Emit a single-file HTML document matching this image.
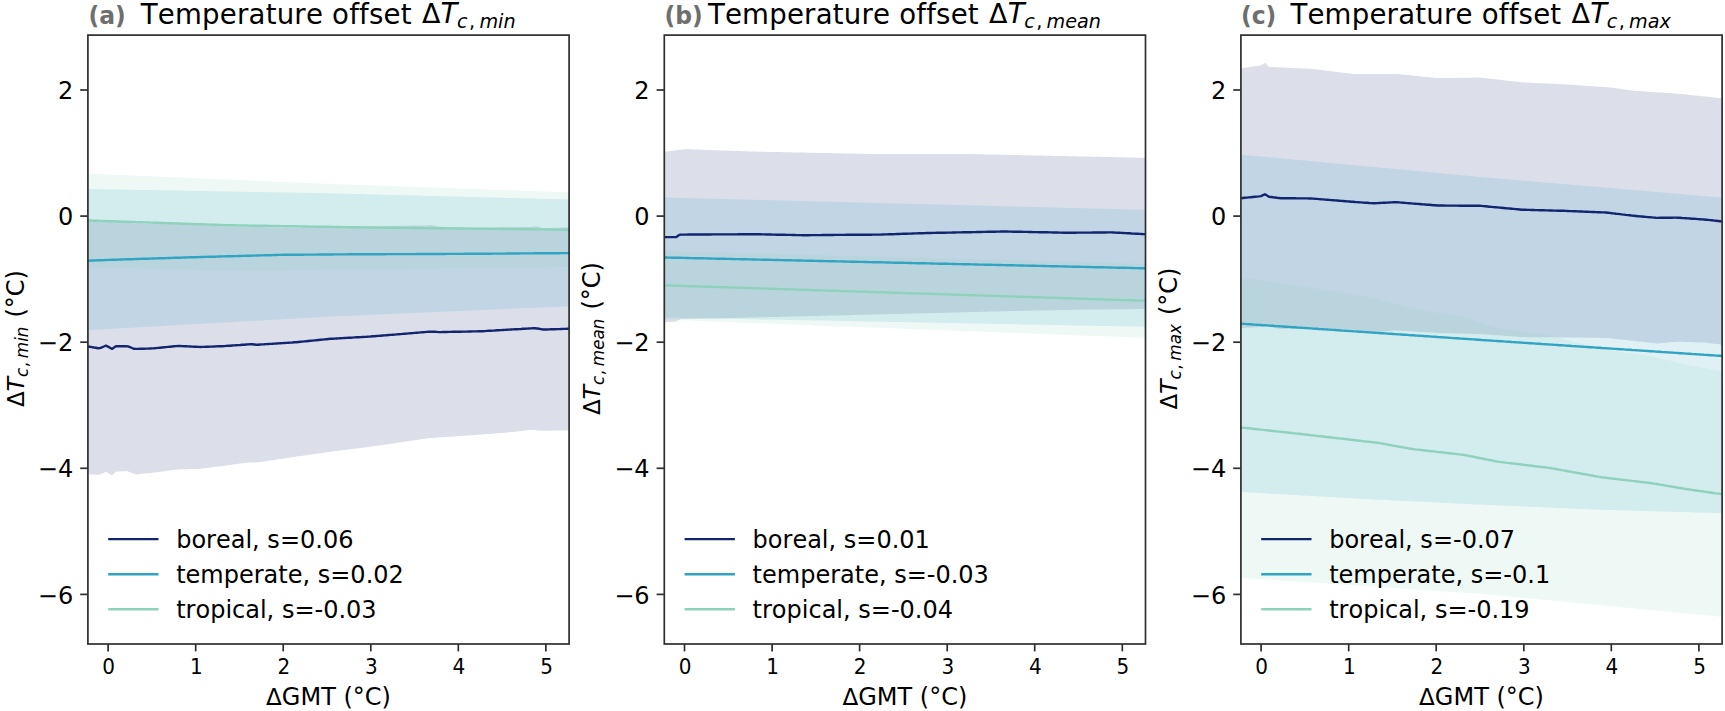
<!DOCTYPE html>
<html lang="en">
<head>
<meta charset="utf-8">
<title>Temperature offset</title>
<style>
html,body{margin:0;padding:0;background:#fff;}
body{width:1725px;height:711px;overflow:hidden;}
svg{display:block;}
text{font-family:'DejaVu Sans','Liberation Sans',sans-serif;fill:#000;font-kerning:none;}
.tk{font-size:24px;}
.xt{font-size:20px;}
.lb{font-size:24px;}
.tt{font-size:27.6px;}
.sub{font-size:19.2px;font-style:italic;}
.it{font-style:italic;}
.let{font-size:23.5px;font-weight:bold;fill:#6e6e6e;}
.lg{font-size:24px;}
</style>
</head>
<body>
<svg width="1725" height="711" viewBox="0 0 1725 711">
<rect x="0" y="0" width="1725" height="711" fill="#fff"/>
<defs>
<clipPath id="clip0"><rect x="87.9" y="35.1" width="481.2" height="608.9"/></clipPath>
<clipPath id="clip1"><rect x="664.3" y="35.1" width="481.2" height="608.9"/></clipPath>
<clipPath id="clip2"><rect x="1240.9" y="35.1" width="481.2" height="608.9"/></clipPath>
</defs>
<g id="panel-a">
<g clip-path="url(#clip0)">
<path d="M87.9 218.7 L89.9 219.3 L91.9 219.8 L93.9 220.4 L95.9 220.9 L97.9 221.5 L99.9 221.6 L101.9 221 L103.9 220.4 L105.9 219.7 L108 220.3 L110 221.3 L112 222.5 L114 221.7 L116 220.9 L118 220.8 L120 220.9 L122 221 L124 221.1 L126 221.2 L128 221.4 L130 222.2 L132 223 L134 223.8 L136 223.5 L138 223.5 L140 223.6 L142 223.7 L144 223.8 L146 223.9 L148.1 223.9 L150.1 224 L152.1 224.1 L154.1 224 L156.1 223.9 L158.1 223.8 L160.1 223.6 L162.1 223.5 L164.1 223.4 L166.1 223.2 L168.1 223.1 L170.1 223 L172.1 222.8 L174.1 222.7 L176.1 222.6 L178.1 222.4 L180.1 222.6 L182.1 222.9 L184.1 223.1 L186.1 223.4 L188.2 223.6 L190.2 223.9 L192.2 224.1 L194.2 224.4 L196.2 224.6 L198.2 224.9 L200.2 225.2 L202.2 225.3 L204.2 225.4 L206.2 225.5 L208.2 225.6 L210.2 225.7 L212.2 225.8 L214.2 225.9 L216.2 226 L218.2 226.1 L220.2 226.2 L222.2 226.3 L224.2 226.4 L226.2 226.4 L228.2 226.4 L230.3 226.4 L232.3 226.4 L234.3 226.4 L236.3 226.4 L238.3 226.4 L240.3 226.4 L242.3 226.4 L244.3 226.4 L246.3 226.4 L248.3 226.4 L250.3 226.3 L252.3 226.3 L254.3 226.5 L256.3 226.8 L258.3 227 L260.3 227.1 L262.3 227.1 L264.3 227.1 L266.3 227.2 L268.4 227.2 L270.4 227.3 L272.4 227.3 L274.4 227.4 L276.4 227.4 L278.4 227.4 L280.4 227.5 L282.4 227.5 L284.4 227.6 L286.4 227.6 L288.4 227.7 L290.4 227.7 L292.4 227.7 L294.4 227.8 L296.4 227.8 L298.4 227.7 L300.4 227.6 L302.4 227.4 L304.4 227.3 L306.4 227.2 L308.4 227.1 L310.5 227 L312.5 226.9 L314.5 226.7 L316.5 226.6 L318.5 226.5 L320.5 226.4 L322.5 226.3 L324.5 226.2 L326.5 226 L328.5 225.9 L330.5 225.8 L332.5 225.9 L334.5 225.9 L336.5 225.9 L338.5 225.9 L340.5 226 L342.5 226 L344.5 226 L346.5 226.1 L348.5 226.1 L350.6 226.1 L352.6 226.1 L354.6 226.2 L356.6 226.2 L358.6 226.2 L360.6 226.3 L362.6 226.3 L364.6 226.3 L366.6 226.3 L368.6 226.4 L370.6 226.4 L372.6 226.3 L374.6 226.3 L376.6 226.3 L378.6 226.2 L380.6 226.2 L382.6 226.1 L384.6 226.1 L386.6 226.1 L388.6 226 L390.7 226 L392.7 225.9 L394.7 225.9 L396.7 225.9 L398.7 225.8 L400.7 225.8 L402.7 225.8 L404.7 225.7 L406.7 225.7 L408.7 225.7 L410.7 225.6 L412.7 225.6 L414.7 225.6 L416.7 225.5 L418.7 225.5 L420.7 225.5 L422.7 225.4 L424.7 225.4 L426.7 225.4 L428.8 225.3 L430.8 225.1 L432.8 225.4 L434.8 225.8 L436.8 226.2 L438.8 226.7 L440.8 226.8 L442.8 226.9 L444.8 226.9 L446.8 227 L448.8 227 L450.8 227.1 L452.8 227.2 L454.8 227.2 L456.8 227.3 L458.8 227.3 L460.8 227.4 L462.8 227.4 L464.8 227.5 L466.8 227.5 L468.9 227.6 L470.9 227.6 L472.9 227.7 L474.9 227.7 L476.9 227.8 L478.9 227.8 L480.9 227.9 L482.9 227.9 L484.9 227.8 L486.9 227.8 L488.9 227.7 L490.9 227.6 L492.9 227.5 L494.9 227.4 L496.9 227.3 L498.9 227.3 L500.9 227.2 L502.9 227.1 L504.9 227 L506.9 226.9 L508.9 226.9 L511 226.9 L513 226.9 L515 226.9 L517 226.9 L519 226.9 L521 226.9 L523 226.9 L525 226.9 L527 226.9 L529 226.9 L531 226.9 L533 226.7 L535 226.2 L537 226.6 L539 227 L541 227.5 L543 228.2 L545 228.3 L547 228.2 L549 228.1 L551.1 228 L553.1 227.9 L555.1 227.8 L557.1 227.7 L559.1 227.7 L561.1 227.6 L563.1 227.5 L565.1 227.4 L567.1 227.3 L569.1 227.2 L569.1 430.3 L567.1 430.3 L565.1 430.4 L563.1 430.4 L561.1 430.5 L559.1 430.5 L557.1 430.5 L555.1 430.6 L553.1 430.6 L551.1 430.7 L549 430.7 L547 430.7 L545 430.8 L543 430.8 L541 430.8 L539 430.6 L537 430.4 L535 430.1 L533 429.8 L531 429.9 L529 430.1 L527 430.3 L525 430.5 L523 430.8 L521 431 L519 431.2 L517 431.4 L515 431.7 L513 431.9 L511 432.1 L508.9 432.3 L506.9 432.5 L504.9 432.7 L502.9 432.9 L500.9 433 L498.9 433.2 L496.9 433.3 L494.9 433.5 L492.9 433.7 L490.9 433.8 L488.9 434 L486.9 434.1 L484.9 434.3 L482.9 434.5 L480.9 434.6 L478.9 434.8 L476.9 434.9 L474.9 435.1 L472.9 435.2 L470.9 435.3 L468.9 435.5 L466.8 435.6 L464.8 435.7 L462.8 435.9 L460.8 436 L458.8 436.1 L456.8 436.3 L454.8 436.4 L452.8 436.5 L450.8 436.7 L448.8 436.8 L446.8 436.9 L444.8 437.1 L442.8 437.2 L440.8 437.3 L438.8 437.5 L436.8 437.6 L434.8 437.7 L432.8 437.9 L430.8 438 L428.8 438.1 L426.7 438.4 L424.7 438.7 L422.7 439 L420.7 439.3 L418.7 439.6 L416.7 439.9 L414.7 440.2 L412.7 440.5 L410.7 440.8 L408.7 441.1 L406.7 441.4 L404.7 441.7 L402.7 442 L400.7 442.3 L398.7 442.6 L396.7 442.9 L394.7 443.2 L392.7 443.5 L390.7 443.8 L388.6 444.1 L386.6 444.4 L384.6 444.6 L382.6 444.9 L380.6 445.2 L378.6 445.5 L376.6 445.8 L374.6 446 L372.6 446.3 L370.6 446.6 L368.6 446.9 L366.6 447.2 L364.6 447.4 L362.6 447.7 L360.6 447.9 L358.6 448.2 L356.6 448.5 L354.6 448.7 L352.6 449 L350.6 449.2 L348.5 449.5 L346.5 449.7 L344.5 450 L342.5 450.3 L340.5 450.5 L338.5 450.8 L336.5 451 L334.5 451.3 L332.5 451.5 L330.5 451.8 L328.5 452.1 L326.5 452.3 L324.5 452.6 L322.5 452.9 L320.5 453.2 L318.5 453.5 L316.5 453.8 L314.5 454 L312.5 454.3 L310.5 454.6 L308.4 454.9 L306.4 455.2 L304.4 455.5 L302.4 455.8 L300.4 456 L298.4 456.3 L296.4 456.6 L294.4 456.9 L292.4 457.2 L290.4 457.5 L288.4 457.8 L286.4 458.1 L284.4 458.4 L282.4 458.7 L280.4 459 L278.4 459.3 L276.4 459.6 L274.4 459.9 L272.4 460.2 L270.4 460.5 L268.4 460.8 L266.3 461.1 L264.3 461.4 L262.3 461.7 L260.3 462 L258.3 462.3 L256.3 462.6 L254.3 462.6 L252.3 462.4 L250.3 462.2 L248.3 462.4 L246.3 462.7 L244.3 463 L242.3 463.2 L240.3 463.5 L238.3 463.8 L236.3 464.1 L234.3 464.4 L232.3 464.6 L230.3 464.9 L228.2 465.2 L226.2 465.5 L224.2 465.8 L222.2 466 L220.2 466.3 L218.2 466.5 L216.2 466.8 L214.2 467 L212.2 467.3 L210.2 467.5 L208.2 467.8 L206.2 468 L204.2 468.3 L202.2 468.5 L200.2 468.8 L198.2 468.9 L196.2 468.9 L194.2 469 L192.2 469 L190.2 469.1 L188.2 469.1 L186.1 469.2 L184.1 469.2 L182.1 469.3 L180.1 469.3 L178.1 469.4 L176.1 469.6 L174.1 469.8 L172.1 470.1 L170.1 470.4 L168.1 470.7 L166.1 470.9 L164.1 471.2 L162.1 471.5 L160.1 471.7 L158.1 472 L156.1 472.3 L154.1 472.5 L152.1 472.8 L150.1 473 L148.1 473.2 L146 473.4 L144 473.6 L142 473.8 L140 474 L138 474.2 L136 474.4 L134 473.8 L132 473 L130 472.2 L128 471.4 L126 471.1 L124 471.2 L122 471.3 L120 471.4 L118 471.5 L116 471.6 L114 473.5 L112 475.4 L110 474.3 L108 472.9 L105.9 471.7 L103.9 472.7 L101.9 473.7 L99.9 474.6 L97.9 474.9 L95.9 474.8 L93.9 474.6 L91.9 474.5 L89.9 474.3 L87.9 474.2Z" fill="#12256f" fill-opacity="0.15" stroke="none"/>
<path d="M87.9 189 L89.9 189 L91.9 189.1 L93.9 189.1 L95.9 189.1 L97.9 189.2 L99.9 189.2 L101.9 189.2 L103.9 189.3 L105.9 189.3 L108 189.4 L110 189.4 L112 189.4 L114 189.5 L116 189.5 L118 189.5 L120 189.6 L122 189.6 L124 189.6 L126 189.7 L128 189.7 L130 189.7 L132 189.8 L134 189.8 L136 189.9 L138 189.9 L140 189.9 L142 190 L144 190 L146 190 L148.1 190.1 L150.1 190.1 L152.1 190.1 L154.1 190.2 L156.1 190.2 L158.1 190.2 L160.1 190.3 L162.1 190.3 L164.1 190.4 L166.1 190.4 L168.1 190.4 L170.1 190.5 L172.1 190.5 L174.1 190.5 L176.1 190.6 L178.1 190.6 L180.1 190.6 L182.1 190.7 L184.1 190.7 L186.1 190.7 L188.2 190.8 L190.2 190.8 L192.2 190.9 L194.2 190.9 L196.2 190.9 L198.2 191 L200.2 191 L202.2 191 L204.2 191.1 L206.2 191.1 L208.2 191.1 L210.2 191.2 L212.2 191.2 L214.2 191.2 L216.2 191.3 L218.2 191.3 L220.2 191.4 L222.2 191.4 L224.2 191.4 L226.2 191.5 L228.2 191.5 L230.3 191.5 L232.3 191.6 L234.3 191.6 L236.3 191.6 L238.3 191.7 L240.3 191.7 L242.3 191.7 L244.3 191.8 L246.3 191.8 L248.3 191.9 L250.3 191.9 L252.3 191.9 L254.3 192 L256.3 192 L258.3 192 L260.3 192.1 L262.3 192.1 L264.3 192.1 L266.3 192.2 L268.4 192.2 L270.4 192.2 L272.4 192.3 L274.4 192.3 L276.4 192.3 L278.4 192.4 L280.4 192.4 L282.4 192.5 L284.4 192.5 L286.4 192.5 L288.4 192.6 L290.4 192.6 L292.4 192.6 L294.4 192.7 L296.4 192.7 L298.4 192.7 L300.4 192.8 L302.4 192.8 L304.4 192.8 L306.4 192.9 L308.4 192.9 L310.5 193 L312.5 193 L314.5 193 L316.5 193.1 L318.5 193.1 L320.5 193.1 L322.5 193.2 L324.5 193.2 L326.5 193.2 L328.5 193.3 L330.5 193.3 L332.5 193.4 L334.5 193.4 L336.5 193.5 L338.5 193.5 L340.5 193.6 L342.5 193.6 L344.5 193.7 L346.5 193.7 L348.5 193.8 L350.6 193.8 L352.6 193.9 L354.6 193.9 L356.6 194 L358.6 194 L360.6 194.1 L362.6 194.1 L364.6 194.2 L366.6 194.3 L368.6 194.3 L370.6 194.4 L372.6 194.4 L374.6 194.5 L376.6 194.5 L378.6 194.6 L380.6 194.6 L382.6 194.7 L384.6 194.7 L386.6 194.8 L388.6 194.8 L390.7 194.9 L392.7 194.9 L394.7 195 L396.7 195 L398.7 195.1 L400.7 195.1 L402.7 195.2 L404.7 195.2 L406.7 195.3 L408.7 195.3 L410.7 195.4 L412.7 195.4 L414.7 195.5 L416.7 195.6 L418.7 195.6 L420.7 195.7 L422.7 195.7 L424.7 195.8 L426.7 195.8 L428.8 195.9 L430.8 195.9 L432.8 196 L434.8 196 L436.8 196.1 L438.8 196.1 L440.8 196.2 L442.8 196.2 L444.8 196.3 L446.8 196.3 L448.8 196.4 L450.8 196.4 L452.8 196.5 L454.8 196.5 L456.8 196.6 L458.8 196.6 L460.8 196.7 L462.8 196.7 L464.8 196.8 L466.8 196.8 L468.9 196.9 L470.9 197 L472.9 197 L474.9 197.1 L476.9 197.1 L478.9 197.2 L480.9 197.2 L482.9 197.3 L484.9 197.3 L486.9 197.4 L488.9 197.4 L490.9 197.5 L492.9 197.5 L494.9 197.6 L496.9 197.6 L498.9 197.7 L500.9 197.7 L502.9 197.8 L504.9 197.8 L506.9 197.9 L508.9 197.9 L511 198 L513 198 L515 198.1 L517 198.1 L519 198.2 L521 198.3 L523 198.3 L525 198.4 L527 198.4 L529 198.5 L531 198.5 L533 198.6 L535 198.6 L537 198.7 L539 198.7 L541 198.8 L543 198.8 L545 198.9 L547 198.9 L549 199 L551.1 199 L553.1 199.1 L555.1 199.1 L557.1 199.2 L559.1 199.2 L561.1 199.3 L563.1 199.3 L565.1 199.4 L567.1 199.4 L569.1 199.5 L569.1 306.3 L567.1 306.4 L565.1 306.4 L563.1 306.5 L561.1 306.6 L559.1 306.7 L557.1 306.8 L555.1 306.9 L553.1 307 L551.1 307 L549 307.1 L547 307.2 L545 307.3 L543 307.4 L541 307.5 L539 307.6 L537 307.7 L535 307.7 L533 307.8 L531 307.9 L529 308 L527 308.1 L525 308.2 L523 308.3 L521 308.3 L519 308.4 L517 308.5 L515 308.6 L513 308.7 L511 308.8 L508.9 308.9 L506.9 309 L504.9 309 L502.9 309.1 L500.9 309.2 L498.9 309.3 L496.9 309.4 L494.9 309.5 L492.9 309.6 L490.9 309.6 L488.9 309.7 L486.9 309.8 L484.9 309.9 L482.9 310 L480.9 310.1 L478.9 310.2 L476.9 310.3 L474.9 310.3 L472.9 310.4 L470.9 310.5 L468.9 310.6 L466.8 310.7 L464.8 310.8 L462.8 310.9 L460.8 310.9 L458.8 311 L456.8 311.1 L454.8 311.2 L452.8 311.3 L450.8 311.4 L448.8 311.5 L446.8 311.6 L444.8 311.6 L442.8 311.7 L440.8 311.8 L438.8 311.9 L436.8 312 L434.8 312.1 L432.8 312.2 L430.8 312.2 L428.8 312.3 L426.7 312.4 L424.7 312.5 L422.7 312.6 L420.7 312.7 L418.7 312.8 L416.7 312.8 L414.7 312.9 L412.7 313 L410.7 313.1 L408.7 313.2 L406.7 313.3 L404.7 313.4 L402.7 313.5 L400.7 313.5 L398.7 313.6 L396.7 313.7 L394.7 313.8 L392.7 313.9 L390.7 314 L388.6 314.1 L386.6 314.1 L384.6 314.2 L382.6 314.3 L380.6 314.4 L378.6 314.5 L376.6 314.6 L374.6 314.7 L372.6 314.8 L370.6 314.8 L368.6 314.9 L366.6 315 L364.6 315.1 L362.6 315.2 L360.6 315.3 L358.6 315.4 L356.6 315.4 L354.6 315.5 L352.6 315.6 L350.6 315.7 L348.5 315.8 L346.5 315.9 L344.5 316 L342.5 316.1 L340.5 316.1 L338.5 316.2 L336.5 316.3 L334.5 316.4 L332.5 316.5 L330.5 316.6 L328.5 316.7 L326.5 316.8 L324.5 316.9 L322.5 317 L320.5 317.1 L318.5 317.2 L316.5 317.3 L314.5 317.5 L312.5 317.6 L310.5 317.7 L308.4 317.8 L306.4 317.9 L304.4 318 L302.4 318.1 L300.4 318.2 L298.4 318.3 L296.4 318.5 L294.4 318.6 L292.4 318.7 L290.4 318.8 L288.4 318.9 L286.4 319 L284.4 319.1 L282.4 319.2 L280.4 319.4 L278.4 319.5 L276.4 319.6 L274.4 319.7 L272.4 319.8 L270.4 319.9 L268.4 320 L266.3 320.1 L264.3 320.3 L262.3 320.4 L260.3 320.5 L258.3 320.6 L256.3 320.7 L254.3 320.8 L252.3 320.9 L250.3 321 L248.3 321.2 L246.3 321.3 L244.3 321.4 L242.3 321.5 L240.3 321.6 L238.3 321.7 L236.3 321.8 L234.3 321.9 L232.3 322.1 L230.3 322.2 L228.2 322.3 L226.2 322.4 L224.2 322.5 L222.2 322.6 L220.2 322.7 L218.2 322.8 L216.2 323 L214.2 323.1 L212.2 323.2 L210.2 323.3 L208.2 323.4 L206.2 323.5 L204.2 323.6 L202.2 323.7 L200.2 323.9 L198.2 324 L196.2 324.1 L194.2 324.2 L192.2 324.3 L190.2 324.4 L188.2 324.5 L186.1 324.6 L184.1 324.8 L182.1 324.9 L180.1 325 L178.1 325.1 L176.1 325.2 L174.1 325.3 L172.1 325.4 L170.1 325.5 L168.1 325.6 L166.1 325.8 L164.1 325.9 L162.1 326 L160.1 326.1 L158.1 326.2 L156.1 326.3 L154.1 326.4 L152.1 326.5 L150.1 326.7 L148.1 326.8 L146 326.9 L144 327 L142 327.1 L140 327.2 L138 327.3 L136 327.4 L134 327.6 L132 327.7 L130 327.8 L128 327.9 L126 328 L124 328.1 L122 328.2 L120 328.3 L118 328.5 L116 328.6 L114 328.7 L112 328.8 L110 328.9 L108 329 L105.9 329.1 L103.9 329.2 L101.9 329.4 L99.9 329.5 L97.9 329.6 L95.9 329.7 L93.9 329.8 L91.9 329.9 L89.9 330 L87.9 330.1Z" fill="#31a4c3" fill-opacity="0.15" stroke="none"/>
<path d="M87.9 173.6 L89.9 173.7 L91.9 173.8 L93.9 173.9 L95.9 173.9 L97.9 174 L99.9 174.1 L101.9 174.2 L103.9 174.3 L105.9 174.4 L108 174.5 L110 174.5 L112 174.6 L114 174.7 L116 174.8 L118 174.9 L120 175 L122 175.1 L124 175.2 L126 175.2 L128 175.3 L130 175.4 L132 175.5 L134 175.6 L136 175.7 L138 175.8 L140 175.8 L142 175.9 L144 176 L146 176.1 L148.1 176.2 L150.1 176.3 L152.1 176.4 L154.1 176.4 L156.1 176.5 L158.1 176.6 L160.1 176.7 L162.1 176.8 L164.1 176.9 L166.1 177 L168.1 177 L170.1 177.1 L172.1 177.2 L174.1 177.3 L176.1 177.4 L178.1 177.5 L180.1 177.6 L182.1 177.6 L184.1 177.7 L186.1 177.8 L188.2 177.9 L190.2 178 L192.2 178.1 L194.2 178.2 L196.2 178.3 L198.2 178.3 L200.2 178.4 L202.2 178.5 L204.2 178.6 L206.2 178.7 L208.2 178.8 L210.2 178.9 L212.2 178.9 L214.2 179 L216.2 179.1 L218.2 179.2 L220.2 179.3 L222.2 179.4 L224.2 179.5 L226.2 179.5 L228.2 179.6 L230.3 179.7 L232.3 179.8 L234.3 179.9 L236.3 180 L238.3 180.1 L240.3 180.1 L242.3 180.2 L244.3 180.3 L246.3 180.4 L248.3 180.5 L250.3 180.6 L252.3 180.7 L254.3 180.8 L256.3 180.8 L258.3 180.9 L260.3 181 L262.3 181.1 L264.3 181.2 L266.3 181.3 L268.4 181.4 L270.4 181.4 L272.4 181.5 L274.4 181.6 L276.4 181.7 L278.4 181.8 L280.4 181.9 L282.4 182 L284.4 182 L286.4 182.1 L288.4 182.2 L290.4 182.3 L292.4 182.4 L294.4 182.5 L296.4 182.6 L298.4 182.6 L300.4 182.7 L302.4 182.8 L304.4 182.9 L306.4 183 L308.4 183.1 L310.5 183.2 L312.5 183.3 L314.5 183.3 L316.5 183.4 L318.5 183.5 L320.5 183.6 L322.5 183.7 L324.5 183.8 L326.5 183.9 L328.5 183.9 L330.5 184 L332.5 184.1 L334.5 184.2 L336.5 184.2 L338.5 184.3 L340.5 184.4 L342.5 184.4 L344.5 184.5 L346.5 184.6 L348.5 184.7 L350.6 184.7 L352.6 184.8 L354.6 184.9 L356.6 184.9 L358.6 185 L360.6 185.1 L362.6 185.1 L364.6 185.2 L366.6 185.3 L368.6 185.4 L370.6 185.4 L372.6 185.5 L374.6 185.6 L376.6 185.6 L378.6 185.7 L380.6 185.8 L382.6 185.9 L384.6 185.9 L386.6 186 L388.6 186.1 L390.7 186.1 L392.7 186.2 L394.7 186.3 L396.7 186.3 L398.7 186.4 L400.7 186.5 L402.7 186.6 L404.7 186.6 L406.7 186.7 L408.7 186.8 L410.7 186.8 L412.7 186.9 L414.7 187 L416.7 187 L418.7 187.1 L420.7 187.2 L422.7 187.3 L424.7 187.3 L426.7 187.4 L428.8 187.5 L430.8 187.5 L432.8 187.6 L434.8 187.7 L436.8 187.8 L438.8 187.8 L440.8 187.9 L442.8 188 L444.8 188 L446.8 188.1 L448.8 188.2 L450.8 188.2 L452.8 188.3 L454.8 188.4 L456.8 188.5 L458.8 188.5 L460.8 188.6 L462.8 188.7 L464.8 188.7 L466.8 188.8 L468.9 188.9 L470.9 188.9 L472.9 189 L474.9 189.1 L476.9 189.2 L478.9 189.2 L480.9 189.3 L482.9 189.4 L484.9 189.4 L486.9 189.5 L488.9 189.6 L490.9 189.7 L492.9 189.7 L494.9 189.8 L496.9 189.9 L498.9 189.9 L500.9 190 L502.9 190.1 L504.9 190.1 L506.9 190.2 L508.9 190.3 L511 190.4 L513 190.4 L515 190.5 L517 190.6 L519 190.6 L521 190.7 L523 190.8 L525 190.9 L527 190.9 L529 191 L531 191.1 L533 191.1 L535 191.2 L537 191.3 L539 191.3 L541 191.4 L543 191.5 L545 191.6 L547 191.6 L549 191.7 L551.1 191.8 L553.1 191.8 L555.1 191.9 L557.1 192 L559.1 192 L561.1 192.1 L563.1 192.2 L565.1 192.3 L567.1 192.3 L569.1 192.4 L569.1 267.1 L567.1 267.1 L565.1 267.1 L563.1 267.1 L561.1 267.2 L559.1 267.2 L557.1 267.2 L555.1 267.2 L553.1 267.3 L551.1 267.3 L549 267.3 L547 267.3 L545 267.4 L543 267.4 L541 267.4 L539 267.4 L537 267.5 L535 267.5 L533 267.5 L531 267.5 L529 267.6 L527 267.6 L525 267.6 L523 267.6 L521 267.7 L519 267.7 L517 267.7 L515 267.8 L513 267.8 L511 267.8 L508.9 267.8 L506.9 267.9 L504.9 267.9 L502.9 267.9 L500.9 267.9 L498.9 268 L496.9 268 L494.9 268 L492.9 268 L490.9 268.1 L488.9 268.1 L486.9 268.1 L484.9 268.1 L482.9 268.2 L480.9 268.2 L478.9 268.2 L476.9 268.2 L474.9 268.3 L472.9 268.3 L470.9 268.3 L468.9 268.3 L466.8 268.4 L464.8 268.4 L462.8 268.4 L460.8 268.4 L458.8 268.5 L456.8 268.5 L454.8 268.5 L452.8 268.5 L450.8 268.6 L448.8 268.6 L446.8 268.6 L444.8 268.6 L442.8 268.7 L440.8 268.7 L438.8 268.7 L436.8 268.7 L434.8 268.8 L432.8 268.8 L430.8 268.8 L428.8 268.8 L426.7 268.9 L424.7 268.9 L422.7 268.9 L420.7 268.9 L418.7 269 L416.7 269 L414.7 269 L412.7 269 L410.7 269.1 L408.7 269.1 L406.7 269.1 L404.7 269.2 L402.7 269.2 L400.7 269.2 L398.7 269.2 L396.7 269.3 L394.7 269.3 L392.7 269.3 L390.7 269.3 L388.6 269.4 L386.6 269.4 L384.6 269.4 L382.6 269.4 L380.6 269.5 L378.6 269.5 L376.6 269.5 L374.6 269.5 L372.6 269.6 L370.6 269.6 L368.6 269.6 L366.6 269.6 L364.6 269.6 L362.6 269.6 L360.6 269.6 L358.6 269.6 L356.6 269.6 L354.6 269.6 L352.6 269.7 L350.6 269.7 L348.5 269.7 L346.5 269.7 L344.5 269.7 L342.5 269.7 L340.5 269.7 L338.5 269.7 L336.5 269.7 L334.5 269.7 L332.5 269.7 L330.5 269.7 L328.5 269.7 L326.5 269.8 L324.5 269.8 L322.5 269.8 L320.5 269.8 L318.5 269.9 L316.5 269.9 L314.5 269.9 L312.5 269.9 L310.5 269.9 L308.4 270 L306.4 270 L304.4 270 L302.4 270 L300.4 270 L298.4 270.1 L296.4 270.1 L294.4 270.1 L292.4 270.1 L290.4 270.2 L288.4 270.2 L286.4 270.2 L284.4 270.2 L282.4 270.2 L280.4 270.3 L278.4 270.3 L276.4 270.3 L274.4 270.3 L272.4 270.4 L270.4 270.4 L268.4 270.4 L266.3 270.4 L264.3 270.4 L262.3 270.5 L260.3 270.5 L258.3 270.5 L256.3 270.5 L254.3 270.6 L252.3 270.6 L250.3 270.6 L248.3 270.6 L246.3 270.6 L244.3 270.7 L242.3 270.7 L240.3 270.7 L238.3 270.7 L236.3 270.8 L234.3 270.8 L232.3 270.8 L230.3 270.8 L228.2 270.8 L226.2 270.8 L224.2 270.7 L222.2 270.7 L220.2 270.6 L218.2 270.6 L216.2 270.5 L214.2 270.5 L212.2 270.4 L210.2 270.4 L208.2 270.3 L206.2 270.3 L204.2 270.2 L202.2 270.2 L200.2 270.1 L198.2 270.1 L196.2 270 L194.2 270 L192.2 269.9 L190.2 269.9 L188.2 269.8 L186.1 269.8 L184.1 269.7 L182.1 269.7 L180.1 269.6 L178.1 269.6 L176.1 269.5 L174.1 269.5 L172.1 269.4 L170.1 269.4 L168.1 269.3 L166.1 269.3 L164.1 269.2 L162.1 269.2 L160.1 269.1 L158.1 269.1 L156.1 269 L154.1 269 L152.1 268.9 L150.1 268.9 L148.1 268.8 L146 268.8 L144 268.7 L142 268.7 L140 268.6 L138 268.6 L136 268.5 L134 268.5 L132 268.4 L130 268.4 L128 268.3 L126 268.3 L124 268.2 L122 268.2 L120 268.1 L118 268.1 L116 268 L114 268 L112 267.9 L110 267.9 L108 267.8 L105.9 267.8 L103.9 267.7 L101.9 267.7 L99.9 267.6 L97.9 267.6 L95.9 267.5 L93.9 267.5 L91.9 267.4 L89.9 267.4 L87.9 267.3Z" fill="#8ed2bb" fill-opacity="0.15" stroke="none"/>
<path d="M87.9 346.4 L89.9 346.8 L91.9 347.1 L93.9 347.5 L95.9 347.8 L97.9 348.2 L99.9 348.1 L101.9 347.3 L103.9 346.5 L105.9 345.7 L108 346.6 L110 347.8 L112 348.9 L114 347.6 L116 346.3 L118 346.2 L120 346.2 L122 346.2 L124 346.2 L126 346.2 L128 346.4 L130 347.2 L132 348 L134 348.8 L136 348.9 L138 348.9 L140 348.8 L142 348.7 L144 348.7 L146 348.6 L148.1 348.6 L150.1 348.5 L152.1 348.4 L154.1 348.3 L156.1 348.1 L158.1 347.9 L160.1 347.7 L162.1 347.5 L164.1 347.3 L166.1 347.1 L168.1 346.9 L170.1 346.7 L172.1 346.5 L174.1 346.3 L176.1 346.1 L178.1 345.9 L180.1 346 L182.1 346.1 L184.1 346.2 L186.1 346.3 L188.2 346.4 L190.2 346.5 L192.2 346.6 L194.2 346.7 L196.2 346.8 L198.2 346.9 L200.2 347 L202.2 346.9 L204.2 346.9 L206.2 346.8 L208.2 346.7 L210.2 346.6 L212.2 346.6 L214.2 346.5 L216.2 346.4 L218.2 346.3 L220.2 346.3 L222.2 346.2 L224.2 346.1 L226.2 345.9 L228.2 345.8 L230.3 345.7 L232.3 345.5 L234.3 345.4 L236.3 345.2 L238.3 345.1 L240.3 345 L242.3 344.8 L244.3 344.7 L246.3 344.5 L248.3 344.4 L250.3 344.3 L252.3 344.3 L254.3 344.5 L256.3 344.7 L258.3 344.7 L260.3 344.5 L262.3 344.4 L264.3 344.3 L266.3 344.1 L268.4 344 L270.4 343.9 L272.4 343.8 L274.4 343.6 L276.4 343.5 L278.4 343.4 L280.4 343.2 L282.4 343.1 L284.4 343 L286.4 342.9 L288.4 342.7 L290.4 342.6 L292.4 342.5 L294.4 342.3 L296.4 342.2 L298.4 342 L300.4 341.8 L302.4 341.6 L304.4 341.4 L306.4 341.2 L308.4 341 L310.5 340.8 L312.5 340.6 L314.5 340.4 L316.5 340.2 L318.5 340 L320.5 339.8 L322.5 339.6 L324.5 339.4 L326.5 339.2 L328.5 339 L330.5 338.8 L332.5 338.7 L334.5 338.6 L336.5 338.5 L338.5 338.4 L340.5 338.2 L342.5 338.1 L344.5 338 L346.5 337.9 L348.5 337.8 L350.6 337.7 L352.6 337.6 L354.6 337.4 L356.6 337.3 L358.6 337.2 L360.6 337.1 L362.6 337 L364.6 336.9 L366.6 336.8 L368.6 336.6 L370.6 336.5 L372.6 336.3 L374.6 336.2 L376.6 336 L378.6 335.9 L380.6 335.7 L382.6 335.5 L384.6 335.4 L386.6 335.2 L388.6 335 L390.7 334.9 L392.7 334.7 L394.7 334.6 L396.7 334.4 L398.7 334.2 L400.7 334.1 L402.7 333.9 L404.7 333.7 L406.7 333.6 L408.7 333.4 L410.7 333.2 L412.7 333.1 L414.7 332.9 L416.7 332.7 L418.7 332.6 L420.7 332.4 L422.7 332.2 L424.7 332.1 L426.7 331.9 L428.8 331.7 L430.8 331.6 L432.8 331.7 L434.8 331.8 L436.8 331.9 L438.8 332.1 L440.8 332.1 L442.8 332 L444.8 332 L446.8 332 L448.8 331.9 L450.8 331.9 L452.8 331.8 L454.8 331.8 L456.8 331.8 L458.8 331.7 L460.8 331.7 L462.8 331.6 L464.8 331.6 L466.8 331.6 L468.9 331.5 L470.9 331.5 L472.9 331.4 L474.9 331.4 L476.9 331.4 L478.9 331.3 L480.9 331.3 L482.9 331.2 L484.9 331.1 L486.9 330.9 L488.9 330.8 L490.9 330.7 L492.9 330.6 L494.9 330.5 L496.9 330.3 L498.9 330.2 L500.9 330.1 L502.9 330 L504.9 329.9 L506.9 329.7 L508.9 329.6 L511 329.5 L513 329.4 L515 329.3 L517 329.2 L519 329.1 L521 329 L523 328.8 L525 328.7 L527 328.6 L529 328.5 L531 328.4 L533 328.3 L535 328.2 L537 328.5 L539 328.8 L541 329.1 L543 329.5 L545 329.5 L547 329.5 L549 329.4 L551.1 329.3 L553.1 329.3 L555.1 329.2 L557.1 329.1 L559.1 329.1 L561.1 329 L563.1 328.9 L565.1 328.9 L567.1 328.8 L569.1 328.8" fill="none" stroke="#12256f" stroke-width="2.4" stroke-linejoin="round"/>
<path d="M87.9 260.7 L89.9 260.6 L91.9 260.5 L93.9 260.5 L95.9 260.4 L97.9 260.3 L99.9 260.2 L101.9 260.2 L103.9 260.1 L105.9 260 L108 259.9 L110 259.9 L112 259.8 L114 259.7 L116 259.7 L118 259.6 L120 259.5 L122 259.5 L124 259.4 L126 259.3 L128 259.3 L130 259.2 L132 259.2 L134 259.1 L136 259 L138 259 L140 258.9 L142 258.8 L144 258.8 L146 258.7 L148.1 258.7 L150.1 258.6 L152.1 258.5 L154.1 258.5 L156.1 258.4 L158.1 258.3 L160.1 258.3 L162.1 258.2 L164.1 258.2 L166.1 258.1 L168.1 258 L170.1 258 L172.1 257.9 L174.1 257.8 L176.1 257.8 L178.1 257.7 L180.1 257.7 L182.1 257.6 L184.1 257.5 L186.1 257.5 L188.2 257.4 L190.2 257.3 L192.2 257.3 L194.2 257.2 L196.2 257.2 L198.2 257.1 L200.2 257 L202.2 257 L204.2 256.9 L206.2 256.9 L208.2 256.8 L210.2 256.8 L212.2 256.7 L214.2 256.7 L216.2 256.6 L218.2 256.5 L220.2 256.5 L222.2 256.4 L224.2 256.4 L226.2 256.3 L228.2 256.3 L230.3 256.2 L232.3 256.2 L234.3 256.1 L236.3 256.1 L238.3 256 L240.3 256 L242.3 255.9 L244.3 255.9 L246.3 255.8 L248.3 255.7 L250.3 255.7 L252.3 255.6 L254.3 255.6 L256.3 255.5 L258.3 255.5 L260.3 255.4 L262.3 255.4 L264.3 255.3 L266.3 255.3 L268.4 255.2 L270.4 255.2 L272.4 255.1 L274.4 255 L276.4 255 L278.4 254.9 L280.4 254.9 L282.4 254.8 L284.4 254.8 L286.4 254.8 L288.4 254.7 L290.4 254.7 L292.4 254.7 L294.4 254.7 L296.4 254.7 L298.4 254.7 L300.4 254.7 L302.4 254.7 L304.4 254.6 L306.4 254.6 L308.4 254.6 L310.5 254.6 L312.5 254.6 L314.5 254.6 L316.5 254.6 L318.5 254.5 L320.5 254.5 L322.5 254.5 L324.5 254.5 L326.5 254.5 L328.5 254.5 L330.5 254.5 L332.5 254.5 L334.5 254.4 L336.5 254.4 L338.5 254.4 L340.5 254.4 L342.5 254.4 L344.5 254.4 L346.5 254.4 L348.5 254.3 L350.6 254.3 L352.6 254.3 L354.6 254.3 L356.6 254.3 L358.6 254.3 L360.6 254.3 L362.6 254.3 L364.6 254.2 L366.6 254.2 L368.6 254.2 L370.6 254.2 L372.6 254.2 L374.6 254.2 L376.6 254.2 L378.6 254.2 L380.6 254.2 L382.6 254.2 L384.6 254.2 L386.6 254.1 L388.6 254.1 L390.7 254.1 L392.7 254.1 L394.7 254.1 L396.7 254.1 L398.7 254.1 L400.7 254.1 L402.7 254.1 L404.7 254.1 L406.7 254.1 L408.7 254.1 L410.7 254.1 L412.7 254.1 L414.7 254.1 L416.7 254 L418.7 254 L420.7 254 L422.7 254 L424.7 254 L426.7 254 L428.8 254 L430.8 254 L432.8 254 L434.8 254 L436.8 254 L438.8 254 L440.8 254 L442.8 254 L444.8 254 L446.8 253.9 L448.8 253.9 L450.8 253.9 L452.8 253.9 L454.8 253.9 L456.8 253.9 L458.8 253.9 L460.8 253.9 L462.8 253.9 L464.8 253.8 L466.8 253.8 L468.9 253.8 L470.9 253.8 L472.9 253.8 L474.9 253.8 L476.9 253.8 L478.9 253.7 L480.9 253.7 L482.9 253.7 L484.9 253.7 L486.9 253.7 L488.9 253.7 L490.9 253.7 L492.9 253.6 L494.9 253.6 L496.9 253.6 L498.9 253.6 L500.9 253.6 L502.9 253.6 L504.9 253.6 L506.9 253.5 L508.9 253.5 L511 253.5 L513 253.5 L515 253.5 L517 253.5 L519 253.5 L521 253.4 L523 253.4 L525 253.4 L527 253.4 L529 253.4 L531 253.4 L533 253.4 L535 253.3 L537 253.3 L539 253.3 L541 253.3 L543 253.3 L545 253.3 L547 253.2 L549 253.2 L551.1 253.2 L553.1 253.2 L555.1 253.2 L557.1 253.2 L559.1 253.2 L561.1 253.1 L563.1 253.1 L565.1 253.1 L567.1 253.1 L569.1 253.1" fill="none" stroke="#31a4c3" stroke-width="2.4" stroke-linejoin="round"/>
<path d="M87.9 220.5 L89.9 220.5 L91.9 220.6 L93.9 220.7 L95.9 220.7 L97.9 220.8 L99.9 220.9 L101.9 220.9 L103.9 221 L105.9 221.1 L108 221.1 L110 221.2 L112 221.3 L114 221.3 L116 221.4 L118 221.5 L120 221.5 L122 221.6 L124 221.7 L126 221.8 L128 221.8 L130 221.9 L132 222 L134 222 L136 222.1 L138 222.2 L140 222.2 L142 222.3 L144 222.4 L146 222.4 L148.1 222.5 L150.1 222.6 L152.1 222.6 L154.1 222.7 L156.1 222.8 L158.1 222.8 L160.1 222.9 L162.1 223 L164.1 223 L166.1 223.1 L168.1 223.2 L170.1 223.3 L172.1 223.3 L174.1 223.4 L176.1 223.5 L178.1 223.5 L180.1 223.6 L182.1 223.7 L184.1 223.7 L186.1 223.8 L188.2 223.9 L190.2 223.9 L192.2 224 L194.2 224.1 L196.2 224.1 L198.2 224.2 L200.2 224.3 L202.2 224.3 L204.2 224.4 L206.2 224.5 L208.2 224.5 L210.2 224.6 L212.2 224.7 L214.2 224.8 L216.2 224.8 L218.2 224.9 L220.2 225 L222.2 225 L224.2 225.1 L226.2 225.2 L228.2 225.2 L230.3 225.3 L232.3 225.3 L234.3 225.3 L236.3 225.4 L238.3 225.4 L240.3 225.4 L242.3 225.5 L244.3 225.5 L246.3 225.5 L248.3 225.6 L250.3 225.6 L252.3 225.6 L254.3 225.7 L256.3 225.7 L258.3 225.7 L260.3 225.7 L262.3 225.8 L264.3 225.8 L266.3 225.8 L268.4 225.9 L270.4 225.9 L272.4 225.9 L274.4 226 L276.4 226 L278.4 226 L280.4 226.1 L282.4 226.1 L284.4 226.1 L286.4 226.2 L288.4 226.2 L290.4 226.2 L292.4 226.3 L294.4 226.3 L296.4 226.3 L298.4 226.4 L300.4 226.4 L302.4 226.4 L304.4 226.5 L306.4 226.5 L308.4 226.5 L310.5 226.6 L312.5 226.6 L314.5 226.6 L316.5 226.6 L318.5 226.7 L320.5 226.7 L322.5 226.7 L324.5 226.8 L326.5 226.8 L328.5 226.8 L330.5 226.9 L332.5 226.9 L334.5 226.9 L336.5 227 L338.5 227 L340.5 227 L342.5 227.1 L344.5 227.1 L346.5 227.1 L348.5 227.2 L350.6 227.2 L352.6 227.2 L354.6 227.3 L356.6 227.3 L358.6 227.3 L360.6 227.4 L362.6 227.4 L364.6 227.4 L366.6 227.4 L368.6 227.5 L370.6 227.5 L372.6 227.5 L374.6 227.6 L376.6 227.6 L378.6 227.6 L380.6 227.6 L382.6 227.6 L384.6 227.7 L386.6 227.7 L388.6 227.7 L390.7 227.7 L392.7 227.8 L394.7 227.8 L396.7 227.8 L398.7 227.8 L400.7 227.8 L402.7 227.9 L404.7 227.9 L406.7 227.9 L408.7 227.9 L410.7 228 L412.7 228 L414.7 228 L416.7 228 L418.7 228 L420.7 228.1 L422.7 228.1 L424.7 228.1 L426.7 228.1 L428.8 228.2 L430.8 228.2 L432.8 228.2 L434.8 228.2 L436.8 228.2 L438.8 228.3 L440.8 228.3 L442.8 228.3 L444.8 228.3 L446.8 228.4 L448.8 228.4 L450.8 228.4 L452.8 228.4 L454.8 228.5 L456.8 228.5 L458.8 228.5 L460.8 228.5 L462.8 228.5 L464.8 228.6 L466.8 228.6 L468.9 228.6 L470.9 228.6 L472.9 228.7 L474.9 228.7 L476.9 228.7 L478.9 228.7 L480.9 228.7 L482.9 228.8 L484.9 228.8 L486.9 228.8 L488.9 228.8 L490.9 228.9 L492.9 228.9 L494.9 228.9 L496.9 228.9 L498.9 228.9 L500.9 229 L502.9 229 L504.9 229 L506.9 229 L508.9 229.1 L511 229.1 L513 229.1 L515 229.1 L517 229.1 L519 229.2 L521 229.2 L523 229.2 L525 229.2 L527 229.3 L529 229.3 L531 229.3 L533 229.3 L535 229.3 L537 229.4 L539 229.4 L541 229.4 L543 229.4 L545 229.5 L547 229.5 L549 229.5 L551.1 229.5 L553.1 229.6 L555.1 229.6 L557.1 229.6 L559.1 229.6 L561.1 229.6 L563.1 229.7 L565.1 229.7 L567.1 229.7 L569.1 229.7" fill="none" stroke="#8ed2bb" stroke-width="2.4" stroke-linejoin="round"/>
</g>
<rect x="87.9" y="35.1" width="481.2" height="608.9" fill="none" stroke="#2e2e2e" stroke-width="1.7"/>
<line x1="108.1" y1="644" x2="108.1" y2="651.4" stroke="#2e2e2e" stroke-width="1.7"/>
<text class="xt" transform="translate(108.7 674.4) scale(1 1.05)" text-anchor="middle">0</text>
<line x1="195.7" y1="644" x2="195.7" y2="651.4" stroke="#2e2e2e" stroke-width="1.7"/>
<text class="xt" transform="translate(196.3 674.4) scale(1 1.05)" text-anchor="middle">1</text>
<line x1="283.2" y1="644" x2="283.2" y2="651.4" stroke="#2e2e2e" stroke-width="1.7"/>
<text class="xt" transform="translate(283.8 674.4) scale(1 1.05)" text-anchor="middle">2</text>
<line x1="370.8" y1="644" x2="370.8" y2="651.4" stroke="#2e2e2e" stroke-width="1.7"/>
<text class="xt" transform="translate(371.4 674.4) scale(1 1.05)" text-anchor="middle">3</text>
<line x1="458.3" y1="644" x2="458.3" y2="651.4" stroke="#2e2e2e" stroke-width="1.7"/>
<text class="xt" transform="translate(458.9 674.4) scale(1 1.05)" text-anchor="middle">4</text>
<line x1="545.9" y1="644" x2="545.9" y2="651.4" stroke="#2e2e2e" stroke-width="1.7"/>
<text class="xt" transform="translate(546.5 674.4) scale(1 1.05)" text-anchor="middle">5</text>
<line x1="80.2" y1="90" x2="87.9" y2="90" stroke="#2e2e2e" stroke-width="1.7"/>
<text class="tk" x="73.2" y="99.1" text-anchor="end">2</text>
<line x1="80.2" y1="216.1" x2="87.9" y2="216.1" stroke="#2e2e2e" stroke-width="1.7"/>
<text class="tk" x="73.2" y="225.2" text-anchor="end">0</text>
<line x1="80.2" y1="342.2" x2="87.9" y2="342.2" stroke="#2e2e2e" stroke-width="1.7"/>
<text class="tk" x="73.2" y="351.3" text-anchor="end">−2</text>
<line x1="80.2" y1="468.3" x2="87.9" y2="468.3" stroke="#2e2e2e" stroke-width="1.7"/>
<text class="tk" x="73.2" y="477.4" text-anchor="end">−4</text>
<line x1="80.2" y1="594.4" x2="87.9" y2="594.4" stroke="#2e2e2e" stroke-width="1.7"/>
<text class="tk" x="73.2" y="603.5" text-anchor="end">−6</text>
<text class="lb" x="328.5" y="704.5" text-anchor="middle"><tspan style="font-size:23.1px">Δ</tspan>GMT (°C)</text>
<g transform="translate(23.7 339.6) rotate(-90)"><text class="lb" x="-67.5" y="0" style="font-size:23.1px">Δ</text><text class="lb it" x="-51.8" y="0" style="font-size:23.7px">T</text><text class="sub" x="-37.3" y="3.8" style="font-size:16.8px">c</text><text class="sub" x="-27.7" y="3.8" style="font-size:16.8px;font-style:normal">,</text><text class="sub" x="-18.6" y="3.8" style="font-size:16.8px">min</text><text class="lb" x="22" y="0">(°C)</text></g>
<text class="let" transform="translate(88.5 23.5) scale(1 1.04)">(a)</text>
<text class="tt" y="23.8"><tspan x="140.8" style="letter-spacing:0.2px">Temperature offset </tspan><tspan x="421.9" dy="-0.5" style="font-size:27px">Δ</tspan><tspan class="it" x="440.6">T</tspan><tspan class="sub" dy="4.3" x="457.1">c</tspan><tspan class="sub" style="font-style:normal" x="469.1">,</tspan><tspan class="sub" x="479.4">min</tspan></text>
<line x1="109.4" y1="539.1" x2="157.3" y2="539.1" stroke="#12256f" stroke-width="2.4" stroke-linecap="square"/>
<text class="lg" x="176.2" y="547.5">boreal, s=0.06</text>
<line x1="109.4" y1="574.2" x2="157.3" y2="574.2" stroke="#31a4c3" stroke-width="2.4" stroke-linecap="square"/>
<text class="lg" x="176.2" y="582.6">temperate, s=0.02</text>
<line x1="109.4" y1="609.3" x2="157.3" y2="609.3" stroke="#8ed2bb" stroke-width="2.4" stroke-linecap="square"/>
<text class="lg" x="176.2" y="617.7">tropical, s=-0.03</text>
</g>
<g id="panel-b">
<g clip-path="url(#clip1)">
<path d="M664.3 151.6 L666.3 151.4 L668.3 151.2 L670.3 150.9 L672.3 150.7 L674.3 150.5 L676.3 150.2 L678.3 150 L680.3 149.8 L682.3 149.6 L684.3 149.3 L686.4 149.2 L688.4 149.3 L690.4 149.3 L692.4 149.4 L694.4 149.5 L696.4 149.6 L698.4 149.6 L700.4 149.7 L702.4 149.8 L704.4 149.8 L706.4 149.9 L708.4 150 L710.4 150 L712.4 150.1 L714.4 150.2 L716.4 150.3 L718.4 150.3 L720.4 150.4 L722.4 150.5 L724.4 150.5 L726.5 150.6 L728.5 150.7 L730.5 150.7 L732.5 150.8 L734.5 150.9 L736.5 151 L738.5 151 L740.5 151.1 L742.5 151.2 L744.5 151.2 L746.5 151.3 L748.5 151.4 L750.5 151.4 L752.5 151.5 L754.5 151.6 L756.5 151.6 L758.5 151.7 L760.5 151.7 L762.5 151.8 L764.5 151.8 L766.6 151.9 L768.6 151.9 L770.6 151.9 L772.6 152 L774.6 152 L776.6 152.1 L778.6 152.1 L780.6 152.1 L782.6 152.2 L784.6 152.2 L786.6 152.3 L788.6 152.3 L790.6 152.3 L792.6 152.4 L794.6 152.4 L796.6 152.5 L798.6 152.5 L800.6 152.5 L802.6 152.6 L804.6 152.6 L806.7 152.7 L808.7 152.7 L810.7 152.7 L812.7 152.8 L814.7 152.8 L816.7 152.9 L818.7 152.9 L820.7 152.9 L822.7 153 L824.7 153 L826.7 153.1 L828.7 153.1 L830.7 153.1 L832.7 153.2 L834.7 153.2 L836.7 153.3 L838.7 153.3 L840.7 153.3 L842.7 153.4 L844.8 153.4 L846.8 153.5 L848.8 153.5 L850.8 153.5 L852.8 153.6 L854.8 153.6 L856.8 153.7 L858.8 153.7 L860.8 153.7 L862.8 153.8 L864.8 153.8 L866.8 153.9 L868.8 153.9 L870.8 153.9 L872.8 154 L874.8 154 L876.8 154.1 L878.8 154.1 L880.8 154.1 L882.8 154.1 L884.8 154.1 L886.9 154.1 L888.9 154.1 L890.9 154.1 L892.9 154.1 L894.9 154.1 L896.9 154.1 L898.9 154.1 L900.9 154.1 L902.9 154.1 L904.9 154.1 L906.9 154.1 L908.9 154.1 L910.9 154.1 L912.9 154.1 L914.9 154.1 L916.9 154.1 L918.9 154.1 L920.9 154.1 L922.9 154.1 L924.9 154.1 L927 154.1 L929 154.1 L931 154.1 L933 154.1 L935 154.1 L937 154.1 L939 154.1 L941 154.1 L943 154.1 L945 154.1 L947 154.1 L949 154.1 L951 154.1 L953 154.1 L955 154.1 L957 154.1 L959 154.1 L961 154.1 L963 154.1 L965 154.1 L967.1 154.1 L969.1 154.1 L971.1 154.1 L973.1 154.1 L975.1 154.2 L977.1 154.2 L979.1 154.3 L981.1 154.3 L983.1 154.3 L985.1 154.4 L987.1 154.4 L989.1 154.5 L991.1 154.5 L993.1 154.6 L995.1 154.6 L997.1 154.6 L999.1 154.7 L1001.1 154.7 L1003.1 154.8 L1005.1 154.8 L1007.2 154.9 L1009.2 154.9 L1011.2 154.9 L1013.2 155 L1015.2 155 L1017.2 155.1 L1019.2 155.1 L1021.2 155.2 L1023.2 155.2 L1025.2 155.2 L1027.2 155.3 L1029.2 155.3 L1031.2 155.4 L1033.2 155.4 L1035.2 155.5 L1037.2 155.5 L1039.2 155.5 L1041.2 155.6 L1043.2 155.6 L1045.2 155.7 L1047.3 155.7 L1049.3 155.8 L1051.3 155.8 L1053.3 155.9 L1055.3 155.9 L1057.3 155.9 L1059.3 156 L1061.3 156 L1063.3 156.1 L1065.3 156.1 L1067.3 156.2 L1069.3 156.2 L1071.3 156.2 L1073.3 156.3 L1075.3 156.3 L1077.3 156.4 L1079.3 156.4 L1081.3 156.5 L1083.3 156.5 L1085.3 156.5 L1087.4 156.6 L1089.4 156.6 L1091.4 156.7 L1093.4 156.7 L1095.4 156.8 L1097.4 156.8 L1099.4 156.8 L1101.4 156.9 L1103.4 156.9 L1105.4 157 L1107.4 157 L1109.4 157.1 L1111.4 157.1 L1113.4 157.1 L1115.4 157.2 L1117.4 157.2 L1119.4 157.3 L1121.4 157.3 L1123.4 157.4 L1125.4 157.4 L1127.5 157.4 L1129.5 157.5 L1131.5 157.5 L1133.5 157.6 L1135.5 157.6 L1137.5 157.7 L1139.5 157.7 L1141.5 157.7 L1143.5 157.8 L1145.5 157.8 L1145.5 309 L1143.5 309 L1141.5 309 L1139.5 309.1 L1137.5 309.1 L1135.5 309.1 L1133.5 309.1 L1131.5 309.1 L1129.5 309.2 L1127.5 309.2 L1125.4 309.2 L1123.4 309.2 L1121.4 309.2 L1119.4 309.3 L1117.4 309.3 L1115.4 309.3 L1113.4 309.3 L1111.4 309.3 L1109.4 309.4 L1107.4 309.4 L1105.4 309.4 L1103.4 309.4 L1101.4 309.4 L1099.4 309.5 L1097.4 309.5 L1095.4 309.5 L1093.4 309.5 L1091.4 309.5 L1089.4 309.6 L1087.4 309.6 L1085.3 309.6 L1083.3 309.6 L1081.3 309.7 L1079.3 309.7 L1077.3 309.7 L1075.3 309.8 L1073.3 309.8 L1071.3 309.9 L1069.3 309.9 L1067.3 309.9 L1065.3 310 L1063.3 310 L1061.3 310.1 L1059.3 310.1 L1057.3 310.1 L1055.3 310.2 L1053.3 310.2 L1051.3 310.3 L1049.3 310.3 L1047.3 310.3 L1045.2 310.4 L1043.2 310.4 L1041.2 310.5 L1039.2 310.5 L1037.2 310.5 L1035.2 310.6 L1033.2 310.6 L1031.2 310.7 L1029.2 310.7 L1027.2 310.7 L1025.2 310.8 L1023.2 310.8 L1021.2 310.9 L1019.2 310.9 L1017.2 310.9 L1015.2 311 L1013.2 311 L1011.2 311.1 L1009.2 311.1 L1007.2 311.1 L1005.1 311.2 L1003.1 311.2 L1001.1 311.3 L999.1 311.3 L997.1 311.4 L995.1 311.4 L993.1 311.5 L991.1 311.5 L989.1 311.6 L987.1 311.7 L985.1 311.7 L983.1 311.8 L981.1 311.8 L979.1 311.9 L977.1 311.9 L975.1 312 L973.1 312 L971.1 312.1 L969.1 312.1 L967.1 312.2 L965 312.2 L963 312.3 L961 312.3 L959 312.4 L957 312.4 L955 312.5 L953 312.5 L951 312.6 L949 312.7 L947 312.7 L945 312.8 L943 312.8 L941 312.9 L939 312.9 L937 313 L935 313 L933 313.1 L931 313.1 L929 313.2 L927 313.2 L924.9 313.3 L922.9 313.3 L920.9 313.4 L918.9 313.4 L916.9 313.5 L914.9 313.5 L912.9 313.6 L910.9 313.7 L908.9 313.7 L906.9 313.8 L904.9 313.8 L902.9 313.9 L900.9 313.9 L898.9 314 L896.9 314 L894.9 314.1 L892.9 314.1 L890.9 314.1 L888.9 314.2 L886.9 314.2 L884.8 314.3 L882.8 314.3 L880.8 314.4 L878.8 314.4 L876.8 314.5 L874.8 314.5 L872.8 314.6 L870.8 314.6 L868.8 314.7 L866.8 314.7 L864.8 314.8 L862.8 314.8 L860.8 314.9 L858.8 314.9 L856.8 315 L854.8 315 L852.8 315.1 L850.8 315.1 L848.8 315.2 L846.8 315.2 L844.8 315.3 L842.7 315.3 L840.7 315.4 L838.7 315.4 L836.7 315.5 L834.7 315.5 L832.7 315.6 L830.7 315.6 L828.7 315.6 L826.7 315.7 L824.7 315.7 L822.7 315.8 L820.7 315.8 L818.7 315.9 L816.7 315.9 L814.7 316 L812.7 316 L810.7 316.1 L808.7 316.1 L806.7 316.2 L804.6 316.2 L802.6 316.3 L800.6 316.3 L798.6 316.4 L796.6 316.4 L794.6 316.5 L792.6 316.5 L790.6 316.6 L788.6 316.6 L786.6 316.7 L784.6 316.7 L782.6 316.8 L780.6 316.8 L778.6 316.9 L776.6 316.9 L774.6 317 L772.6 317 L770.6 317 L768.6 317.1 L766.6 317.1 L764.5 317.2 L762.5 317.2 L760.5 317.3 L758.5 317.3 L756.5 317.4 L754.5 317.4 L752.5 317.5 L750.5 317.5 L748.5 317.6 L746.5 317.6 L744.5 317.7 L742.5 317.7 L740.5 317.8 L738.5 317.8 L736.5 317.9 L734.5 317.9 L732.5 318 L730.5 318 L728.5 318 L726.5 318.1 L724.4 318.1 L722.4 318.2 L720.4 318.2 L718.4 318.3 L716.4 318.3 L714.4 318.4 L712.4 318.4 L710.4 318.5 L708.4 318.5 L706.4 318.6 L704.4 318.6 L702.4 318.7 L700.4 318.7 L698.4 318.8 L696.4 318.8 L694.4 318.9 L692.4 318.9 L690.4 318.9 L688.4 319 L686.4 319 L684.3 319.1 L682.3 319.1 L680.3 319.2 L678.3 320.2 L676.3 321.6 L674.3 321.7 L672.3 321.8 L670.3 321.9 L668.3 322 L666.3 322.1 L664.3 322.2Z" fill="#12256f" fill-opacity="0.15" stroke="none"/>
<path d="M664.3 197.5 L666.3 197.5 L668.3 197.6 L670.3 197.6 L672.3 197.7 L674.3 197.7 L676.3 197.8 L678.3 197.8 L680.3 197.9 L682.3 197.9 L684.3 198 L686.4 198 L688.4 198.1 L690.4 198.1 L692.4 198.2 L694.4 198.2 L696.4 198.3 L698.4 198.3 L700.4 198.4 L702.4 198.4 L704.4 198.5 L706.4 198.5 L708.4 198.6 L710.4 198.6 L712.4 198.7 L714.4 198.7 L716.4 198.8 L718.4 198.8 L720.4 198.9 L722.4 199 L724.4 199 L726.5 199.1 L728.5 199.1 L730.5 199.2 L732.5 199.2 L734.5 199.3 L736.5 199.3 L738.5 199.4 L740.5 199.4 L742.5 199.5 L744.5 199.5 L746.5 199.6 L748.5 199.6 L750.5 199.7 L752.5 199.7 L754.5 199.8 L756.5 199.8 L758.5 199.9 L760.5 199.9 L762.5 200 L764.5 200 L766.6 200.1 L768.6 200.1 L770.6 200.2 L772.6 200.2 L774.6 200.3 L776.6 200.3 L778.6 200.4 L780.6 200.4 L782.6 200.5 L784.6 200.5 L786.6 200.6 L788.6 200.6 L790.6 200.7 L792.6 200.8 L794.6 200.8 L796.6 200.9 L798.6 200.9 L800.6 201 L802.6 201 L804.6 201.1 L806.7 201.1 L808.7 201.2 L810.7 201.2 L812.7 201.3 L814.7 201.3 L816.7 201.4 L818.7 201.4 L820.7 201.5 L822.7 201.5 L824.7 201.6 L826.7 201.6 L828.7 201.7 L830.7 201.7 L832.7 201.8 L834.7 201.8 L836.7 201.9 L838.7 201.9 L840.7 202 L842.7 202 L844.8 202.1 L846.8 202.1 L848.8 202.2 L850.8 202.2 L852.8 202.3 L854.8 202.3 L856.8 202.4 L858.8 202.5 L860.8 202.5 L862.8 202.6 L864.8 202.6 L866.8 202.7 L868.8 202.7 L870.8 202.8 L872.8 202.8 L874.8 202.9 L876.8 202.9 L878.8 203 L880.8 203 L882.8 203.1 L884.8 203.1 L886.9 203.2 L888.9 203.2 L890.9 203.3 L892.9 203.3 L894.9 203.4 L896.9 203.4 L898.9 203.5 L900.9 203.5 L902.9 203.6 L904.9 203.6 L906.9 203.7 L908.9 203.7 L910.9 203.8 L912.9 203.8 L914.9 203.9 L916.9 203.9 L918.9 204 L920.9 204 L922.9 204.1 L924.9 204.2 L927 204.2 L929 204.3 L931 204.3 L933 204.4 L935 204.4 L937 204.5 L939 204.5 L941 204.6 L943 204.6 L945 204.7 L947 204.7 L949 204.8 L951 204.8 L953 204.9 L955 204.9 L957 205 L959 205 L961 205.1 L963 205.1 L965 205.2 L967.1 205.2 L969.1 205.3 L971.1 205.3 L973.1 205.4 L975.1 205.4 L977.1 205.5 L979.1 205.5 L981.1 205.6 L983.1 205.6 L985.1 205.7 L987.1 205.7 L989.1 205.8 L991.1 205.8 L993.1 205.9 L995.1 206 L997.1 206 L999.1 206.1 L1001.1 206.1 L1003.1 206.2 L1005.1 206.2 L1007.2 206.3 L1009.2 206.3 L1011.2 206.4 L1013.2 206.4 L1015.2 206.5 L1017.2 206.5 L1019.2 206.6 L1021.2 206.6 L1023.2 206.7 L1025.2 206.7 L1027.2 206.8 L1029.2 206.8 L1031.2 206.9 L1033.2 206.9 L1035.2 207 L1037.2 207 L1039.2 207.1 L1041.2 207.1 L1043.2 207.2 L1045.2 207.2 L1047.3 207.3 L1049.3 207.3 L1051.3 207.4 L1053.3 207.4 L1055.3 207.5 L1057.3 207.5 L1059.3 207.6 L1061.3 207.7 L1063.3 207.7 L1065.3 207.8 L1067.3 207.8 L1069.3 207.9 L1071.3 207.9 L1073.3 208 L1075.3 208 L1077.3 208.1 L1079.3 208.1 L1081.3 208.2 L1083.3 208.2 L1085.3 208.3 L1087.4 208.3 L1089.4 208.4 L1091.4 208.4 L1093.4 208.5 L1095.4 208.5 L1097.4 208.6 L1099.4 208.6 L1101.4 208.7 L1103.4 208.7 L1105.4 208.8 L1107.4 208.8 L1109.4 208.9 L1111.4 208.9 L1113.4 209 L1115.4 209 L1117.4 209.1 L1119.4 209.1 L1121.4 209.2 L1123.4 209.2 L1125.4 209.3 L1127.5 209.3 L1129.5 209.4 L1131.5 209.5 L1133.5 209.5 L1135.5 209.6 L1137.5 209.6 L1139.5 209.7 L1141.5 209.7 L1143.5 209.8 L1145.5 209.8 L1145.5 326.8 L1143.5 326.7 L1141.5 326.7 L1139.5 326.7 L1137.5 326.6 L1135.5 326.6 L1133.5 326.5 L1131.5 326.5 L1129.5 326.5 L1127.5 326.4 L1125.4 326.4 L1123.4 326.3 L1121.4 326.3 L1119.4 326.3 L1117.4 326.2 L1115.4 326.2 L1113.4 326.2 L1111.4 326.1 L1109.4 326.1 L1107.4 326 L1105.4 326 L1103.4 326 L1101.4 325.9 L1099.4 325.9 L1097.4 325.8 L1095.4 325.8 L1093.4 325.8 L1091.4 325.7 L1089.4 325.7 L1087.4 325.7 L1085.3 325.6 L1083.3 325.6 L1081.3 325.5 L1079.3 325.5 L1077.3 325.5 L1075.3 325.4 L1073.3 325.4 L1071.3 325.3 L1069.3 325.3 L1067.3 325.3 L1065.3 325.2 L1063.3 325.2 L1061.3 325.1 L1059.3 325.1 L1057.3 325.1 L1055.3 325 L1053.3 325 L1051.3 325 L1049.3 324.9 L1047.3 324.9 L1045.2 324.8 L1043.2 324.8 L1041.2 324.8 L1039.2 324.7 L1037.2 324.7 L1035.2 324.6 L1033.2 324.6 L1031.2 324.6 L1029.2 324.5 L1027.2 324.5 L1025.2 324.5 L1023.2 324.4 L1021.2 324.4 L1019.2 324.3 L1017.2 324.3 L1015.2 324.3 L1013.2 324.2 L1011.2 324.2 L1009.2 324.1 L1007.2 324.1 L1005.1 324.1 L1003.1 324 L1001.1 324 L999.1 324 L997.1 323.9 L995.1 323.9 L993.1 323.8 L991.1 323.8 L989.1 323.8 L987.1 323.7 L985.1 323.7 L983.1 323.6 L981.1 323.6 L979.1 323.6 L977.1 323.5 L975.1 323.5 L973.1 323.5 L971.1 323.4 L969.1 323.4 L967.1 323.3 L965 323.3 L963 323.3 L961 323.2 L959 323.2 L957 323.1 L955 323.1 L953 323.1 L951 323 L949 323 L947 322.9 L945 322.9 L943 322.9 L941 322.8 L939 322.8 L937 322.8 L935 322.7 L933 322.7 L931 322.6 L929 322.6 L927 322.6 L924.9 322.5 L922.9 322.5 L920.9 322.4 L918.9 322.4 L916.9 322.4 L914.9 322.3 L912.9 322.3 L910.9 322.3 L908.9 322.2 L906.9 322.2 L904.9 322.1 L902.9 322.1 L900.9 322.1 L898.9 322 L896.9 322 L894.9 321.9 L892.9 321.9 L890.9 321.9 L888.9 321.8 L886.9 321.8 L884.8 321.8 L882.8 321.7 L880.8 321.7 L878.8 321.6 L876.8 321.6 L874.8 321.6 L872.8 321.5 L870.8 321.5 L868.8 321.4 L866.8 321.4 L864.8 321.4 L862.8 321.3 L860.8 321.3 L858.8 321.3 L856.8 321.2 L854.8 321.2 L852.8 321.1 L850.8 321.1 L848.8 321.1 L846.8 321 L844.8 321 L842.7 320.9 L840.7 320.9 L838.7 320.9 L836.7 320.8 L834.7 320.8 L832.7 320.7 L830.7 320.7 L828.7 320.7 L826.7 320.6 L824.7 320.6 L822.7 320.6 L820.7 320.5 L818.7 320.5 L816.7 320.4 L814.7 320.4 L812.7 320.4 L810.7 320.3 L808.7 320.3 L806.7 320.2 L804.6 320.2 L802.6 320.2 L800.6 320.1 L798.6 320.1 L796.6 320.1 L794.6 320 L792.6 320 L790.6 319.9 L788.6 319.9 L786.6 319.9 L784.6 319.8 L782.6 319.8 L780.6 319.7 L778.6 319.7 L776.6 319.7 L774.6 319.6 L772.6 319.6 L770.6 319.6 L768.6 319.5 L766.6 319.5 L764.5 319.4 L762.5 319.4 L760.5 319.4 L758.5 319.3 L756.5 319.3 L754.5 319.2 L752.5 319.2 L750.5 319.2 L748.5 319.1 L746.5 319.1 L744.5 319.1 L742.5 319 L740.5 319 L738.5 318.9 L736.5 318.9 L734.5 318.9 L732.5 318.8 L730.5 318.8 L728.5 318.7 L726.5 318.7 L724.4 318.7 L722.4 318.6 L720.4 318.6 L718.4 318.5 L716.4 318.5 L714.4 318.5 L712.4 318.4 L710.4 318.4 L708.4 318.4 L706.4 318.3 L704.4 318.3 L702.4 318.2 L700.4 318.2 L698.4 318.2 L696.4 318.1 L694.4 318.1 L692.4 318 L690.4 318 L688.4 318 L686.4 317.9 L684.3 317.9 L682.3 317.9 L680.3 317.8 L678.3 317.8 L676.3 317.7 L674.3 317.7 L672.3 317.7 L670.3 317.6 L668.3 317.6 L666.3 317.5 L664.3 317.5Z" fill="#31a4c3" fill-opacity="0.15" stroke="none"/>
<path d="M664.3 251 L666.3 251.1 L668.3 251.1 L670.3 251.2 L672.3 251.2 L674.3 251.3 L676.3 251.3 L678.3 251.4 L680.3 251.4 L682.3 251.5 L684.3 251.6 L686.4 251.6 L688.4 251.7 L690.4 251.7 L692.4 251.8 L694.4 251.8 L696.4 251.9 L698.4 251.9 L700.4 252 L702.4 252 L704.4 252.1 L706.4 252.1 L708.4 252.2 L710.4 252.2 L712.4 252.3 L714.4 252.3 L716.4 252.4 L718.4 252.5 L720.4 252.5 L722.4 252.6 L724.4 252.6 L726.5 252.7 L728.5 252.7 L730.5 252.8 L732.5 252.8 L734.5 252.9 L736.5 252.9 L738.5 253 L740.5 253 L742.5 253.1 L744.5 253.1 L746.5 253.2 L748.5 253.3 L750.5 253.3 L752.5 253.4 L754.5 253.4 L756.5 253.5 L758.5 253.5 L760.5 253.6 L762.5 253.6 L764.5 253.7 L766.6 253.7 L768.6 253.8 L770.6 253.8 L772.6 253.9 L774.6 253.9 L776.6 254 L778.6 254 L780.6 254.1 L782.6 254.2 L784.6 254.2 L786.6 254.3 L788.6 254.3 L790.6 254.4 L792.6 254.4 L794.6 254.5 L796.6 254.5 L798.6 254.6 L800.6 254.6 L802.6 254.7 L804.6 254.7 L806.7 254.8 L808.7 254.8 L810.7 254.9 L812.7 255 L814.7 255 L816.7 255.1 L818.7 255.1 L820.7 255.2 L822.7 255.2 L824.7 255.3 L826.7 255.3 L828.7 255.4 L830.7 255.4 L832.7 255.5 L834.7 255.5 L836.7 255.6 L838.7 255.6 L840.7 255.7 L842.7 255.7 L844.8 255.8 L846.8 255.9 L848.8 255.9 L850.8 256 L852.8 256 L854.8 256.1 L856.8 256.1 L858.8 256.2 L860.8 256.2 L862.8 256.3 L864.8 256.3 L866.8 256.4 L868.8 256.4 L870.8 256.5 L872.8 256.5 L874.8 256.6 L876.8 256.7 L878.8 256.7 L880.8 256.8 L882.8 256.8 L884.8 256.9 L886.9 256.9 L888.9 257 L890.9 257 L892.9 257.1 L894.9 257.1 L896.9 257.2 L898.9 257.2 L900.9 257.3 L902.9 257.3 L904.9 257.4 L906.9 257.5 L908.9 257.5 L910.9 257.6 L912.9 257.6 L914.9 257.7 L916.9 257.7 L918.9 257.8 L920.9 257.8 L922.9 257.9 L924.9 257.9 L927 258 L929 258 L931 258.1 L933 258.1 L935 258.2 L937 258.2 L939 258.3 L941 258.4 L943 258.4 L945 258.5 L947 258.5 L949 258.6 L951 258.6 L953 258.7 L955 258.7 L957 258.8 L959 258.8 L961 258.9 L963 258.9 L965 259 L967.1 259 L969.1 259.1 L971.1 259.2 L973.1 259.2 L975.1 259.3 L977.1 259.3 L979.1 259.4 L981.1 259.4 L983.1 259.5 L985.1 259.5 L987.1 259.6 L989.1 259.6 L991.1 259.7 L993.1 259.7 L995.1 259.8 L997.1 259.8 L999.1 259.9 L1001.1 259.9 L1003.1 260 L1005.1 260.1 L1007.2 260.1 L1009.2 260.2 L1011.2 260.2 L1013.2 260.3 L1015.2 260.3 L1017.2 260.4 L1019.2 260.4 L1021.2 260.5 L1023.2 260.5 L1025.2 260.6 L1027.2 260.6 L1029.2 260.7 L1031.2 260.7 L1033.2 260.8 L1035.2 260.9 L1037.2 260.9 L1039.2 261 L1041.2 261 L1043.2 261.1 L1045.2 261.1 L1047.3 261.2 L1049.3 261.2 L1051.3 261.3 L1053.3 261.3 L1055.3 261.4 L1057.3 261.4 L1059.3 261.5 L1061.3 261.5 L1063.3 261.6 L1065.3 261.6 L1067.3 261.7 L1069.3 261.8 L1071.3 261.8 L1073.3 261.9 L1075.3 261.9 L1077.3 262 L1079.3 262 L1081.3 262.1 L1083.3 262.1 L1085.3 262.2 L1087.4 262.2 L1089.4 262.3 L1091.4 262.3 L1093.4 262.4 L1095.4 262.4 L1097.4 262.5 L1099.4 262.6 L1101.4 262.6 L1103.4 262.7 L1105.4 262.7 L1107.4 262.8 L1109.4 262.8 L1111.4 262.9 L1113.4 262.9 L1115.4 263 L1117.4 263 L1119.4 263.1 L1121.4 263.1 L1123.4 263.2 L1125.4 263.2 L1127.5 263.3 L1129.5 263.3 L1131.5 263.4 L1133.5 263.5 L1135.5 263.5 L1137.5 263.6 L1139.5 263.6 L1141.5 263.7 L1143.5 263.7 L1145.5 263.8 L1145.5 337.8 L1143.5 337.7 L1141.5 337.6 L1139.5 337.5 L1137.5 337.5 L1135.5 337.4 L1133.5 337.3 L1131.5 337.2 L1129.5 337.2 L1127.5 337.1 L1125.4 337 L1123.4 336.9 L1121.4 336.9 L1119.4 336.8 L1117.4 336.7 L1115.4 336.6 L1113.4 336.6 L1111.4 336.5 L1109.4 336.4 L1107.4 336.3 L1105.4 336.3 L1103.4 336.2 L1101.4 336.1 L1099.4 336 L1097.4 336 L1095.4 335.9 L1093.4 335.8 L1091.4 335.7 L1089.4 335.7 L1087.4 335.6 L1085.3 335.5 L1083.3 335.4 L1081.3 335.4 L1079.3 335.3 L1077.3 335.2 L1075.3 335.1 L1073.3 335.1 L1071.3 335 L1069.3 334.9 L1067.3 334.8 L1065.3 334.8 L1063.3 334.7 L1061.3 334.6 L1059.3 334.5 L1057.3 334.5 L1055.3 334.4 L1053.3 334.3 L1051.3 334.2 L1049.3 334.1 L1047.3 334.1 L1045.2 334 L1043.2 333.9 L1041.2 333.8 L1039.2 333.8 L1037.2 333.7 L1035.2 333.6 L1033.2 333.5 L1031.2 333.5 L1029.2 333.4 L1027.2 333.3 L1025.2 333.2 L1023.2 333.2 L1021.2 333.1 L1019.2 333 L1017.2 332.9 L1015.2 332.9 L1013.2 332.8 L1011.2 332.7 L1009.2 332.6 L1007.2 332.6 L1005.1 332.5 L1003.1 332.4 L1001.1 332.3 L999.1 332.3 L997.1 332.2 L995.1 332.1 L993.1 332 L991.1 332 L989.1 331.9 L987.1 331.8 L985.1 331.7 L983.1 331.7 L981.1 331.6 L979.1 331.5 L977.1 331.4 L975.1 331.4 L973.1 331.3 L971.1 331.2 L969.1 331.1 L967.1 331.1 L965 331 L963 330.9 L961 330.8 L959 330.7 L957 330.7 L955 330.6 L953 330.5 L951 330.4 L949 330.4 L947 330.3 L945 330.2 L943 330.1 L941 330.1 L939 330 L937 329.9 L935 329.8 L933 329.8 L931 329.7 L929 329.6 L927 329.5 L924.9 329.5 L922.9 329.4 L920.9 329.3 L918.9 329.2 L916.9 329.2 L914.9 329.1 L912.9 329 L910.9 328.9 L908.9 328.9 L906.9 328.8 L904.9 328.7 L902.9 328.6 L900.9 328.6 L898.9 328.5 L896.9 328.4 L894.9 328.3 L892.9 328.3 L890.9 328.2 L888.9 328.1 L886.9 328 L884.8 328 L882.8 327.9 L880.8 327.8 L878.8 327.7 L876.8 327.7 L874.8 327.6 L872.8 327.5 L870.8 327.4 L868.8 327.3 L866.8 327.3 L864.8 327.2 L862.8 327.1 L860.8 327 L858.8 327 L856.8 326.9 L854.8 326.8 L852.8 326.7 L850.8 326.7 L848.8 326.6 L846.8 326.5 L844.8 326.4 L842.7 326.4 L840.7 326.3 L838.7 326.2 L836.7 326.1 L834.7 326.1 L832.7 326 L830.7 325.9 L828.7 325.8 L826.7 325.8 L824.7 325.7 L822.7 325.6 L820.7 325.5 L818.7 325.5 L816.7 325.4 L814.7 325.3 L812.7 325.2 L810.7 325.2 L808.7 325.1 L806.7 325 L804.6 324.9 L802.6 324.9 L800.6 324.8 L798.6 324.7 L796.6 324.6 L794.6 324.6 L792.6 324.5 L790.6 324.4 L788.6 324.3 L786.6 324.3 L784.6 324.2 L782.6 324.1 L780.6 324 L778.6 323.9 L776.6 323.9 L774.6 323.8 L772.6 323.7 L770.6 323.6 L768.6 323.6 L766.6 323.5 L764.5 323.4 L762.5 323.3 L760.5 323.3 L758.5 323.2 L756.5 323.1 L754.5 323 L752.5 323 L750.5 322.9 L748.5 322.8 L746.5 322.7 L744.5 322.7 L742.5 322.6 L740.5 322.5 L738.5 322.4 L736.5 322.4 L734.5 322.3 L732.5 322.2 L730.5 322.1 L728.5 322.1 L726.5 322 L724.4 321.9 L722.4 321.8 L720.4 321.8 L718.4 321.7 L716.4 321.6 L714.4 321.5 L712.4 321.5 L710.4 321.4 L708.4 321.3 L706.4 321.2 L704.4 321.2 L702.4 321.1 L700.4 321 L698.4 320.9 L696.4 320.9 L694.4 320.8 L692.4 320.7 L690.4 320.6 L688.4 320.5 L686.4 320.5 L684.3 320.4 L682.3 320.3 L680.3 320.2 L678.3 320.2 L676.3 320.1 L674.3 320 L672.3 319.9 L670.3 319.9 L668.3 319.8 L666.3 319.7 L664.3 319.6Z" fill="#8ed2bb" fill-opacity="0.15" stroke="none"/>
<path d="M664.3 237.1 L666.3 237.1 L668.3 237.1 L670.3 237.1 L672.3 237.1 L674.3 237.1 L676.3 237.1 L678.3 235.5 L680.3 234.6 L682.3 234.6 L684.3 234.6 L686.4 234.6 L688.4 234.5 L690.4 234.5 L692.4 234.5 L694.4 234.5 L696.4 234.5 L698.4 234.5 L700.4 234.5 L702.4 234.5 L704.4 234.5 L706.4 234.5 L708.4 234.5 L710.4 234.5 L712.4 234.4 L714.4 234.4 L716.4 234.4 L718.4 234.4 L720.4 234.4 L722.4 234.4 L724.4 234.4 L726.5 234.4 L728.5 234.4 L730.5 234.4 L732.5 234.4 L734.5 234.4 L736.5 234.4 L738.5 234.3 L740.5 234.3 L742.5 234.3 L744.5 234.3 L746.5 234.3 L748.5 234.3 L750.5 234.3 L752.5 234.3 L754.5 234.3 L756.5 234.3 L758.5 234.3 L760.5 234.3 L762.5 234.4 L764.5 234.4 L766.6 234.5 L768.6 234.5 L770.6 234.5 L772.6 234.6 L774.6 234.6 L776.6 234.7 L778.6 234.7 L780.6 234.7 L782.6 234.8 L784.6 234.8 L786.6 234.9 L788.6 234.9 L790.6 234.9 L792.6 235 L794.6 235 L796.6 235.1 L798.6 235.1 L800.6 235.1 L802.6 235.2 L804.6 235.2 L806.7 235.2 L808.7 235.2 L810.7 235.1 L812.7 235.1 L814.7 235.1 L816.7 235.1 L818.7 235.1 L820.7 235.1 L822.7 235 L824.7 235 L826.7 235 L828.7 235 L830.7 235 L832.7 235 L834.7 234.9 L836.7 234.9 L838.7 234.9 L840.7 234.9 L842.7 234.9 L844.8 234.9 L846.8 234.8 L848.8 234.8 L850.8 234.8 L852.8 234.8 L854.8 234.8 L856.8 234.8 L858.8 234.8 L860.8 234.7 L862.8 234.7 L864.8 234.7 L866.8 234.7 L868.8 234.7 L870.8 234.7 L872.8 234.6 L874.8 234.6 L876.8 234.6 L878.8 234.6 L880.8 234.6 L882.8 234.5 L884.8 234.4 L886.9 234.4 L888.9 234.3 L890.9 234.2 L892.9 234.2 L894.9 234.1 L896.9 234 L898.9 234 L900.9 233.9 L902.9 233.8 L904.9 233.8 L906.9 233.7 L908.9 233.6 L910.9 233.6 L912.9 233.5 L914.9 233.4 L916.9 233.4 L918.9 233.3 L920.9 233.2 L922.9 233.2 L924.9 233.1 L927 233 L929 233 L931 233 L933 232.9 L935 232.9 L937 232.8 L939 232.8 L941 232.8 L943 232.7 L945 232.7 L947 232.6 L949 232.6 L951 232.6 L953 232.5 L955 232.5 L957 232.4 L959 232.4 L961 232.4 L963 232.3 L965 232.3 L967.1 232.2 L969.1 232.2 L971.1 232.2 L973.1 232.1 L975.1 232.1 L977.1 232 L979.1 232 L981.1 232 L983.1 231.9 L985.1 231.9 L987.1 231.8 L989.1 231.8 L991.1 231.7 L993.1 231.7 L995.1 231.7 L997.1 231.6 L999.1 231.6 L1001.1 231.5 L1003.1 231.5 L1005.1 231.5 L1007.2 231.5 L1009.2 231.6 L1011.2 231.6 L1013.2 231.7 L1015.2 231.7 L1017.2 231.7 L1019.2 231.8 L1021.2 231.8 L1023.2 231.9 L1025.2 231.9 L1027.2 231.9 L1029.2 232 L1031.2 232 L1033.2 232.1 L1035.2 232.1 L1037.2 232.1 L1039.2 232.2 L1041.2 232.2 L1043.2 232.3 L1045.2 232.3 L1047.3 232.3 L1049.3 232.4 L1051.3 232.4 L1053.3 232.5 L1055.3 232.5 L1057.3 232.5 L1059.3 232.6 L1061.3 232.6 L1063.3 232.7 L1065.3 232.7 L1067.3 232.7 L1069.3 232.7 L1071.3 232.7 L1073.3 232.7 L1075.3 232.7 L1077.3 232.6 L1079.3 232.6 L1081.3 232.6 L1083.3 232.6 L1085.3 232.6 L1087.4 232.6 L1089.4 232.6 L1091.4 232.6 L1093.4 232.5 L1095.4 232.5 L1097.4 232.5 L1099.4 232.5 L1101.4 232.5 L1103.4 232.5 L1105.4 232.5 L1107.4 232.4 L1109.4 232.4 L1111.4 232.4 L1113.4 232.5 L1115.4 232.6 L1117.4 232.7 L1119.4 232.8 L1121.4 232.9 L1123.4 233 L1125.4 233.1 L1127.5 233.2 L1129.5 233.3 L1131.5 233.5 L1133.5 233.6 L1135.5 233.7 L1137.5 233.8 L1139.5 233.9 L1141.5 234 L1143.5 234.1 L1145.5 234.2" fill="none" stroke="#12256f" stroke-width="2.4" stroke-linejoin="round"/>
<path d="M664.3 257.5 L666.3 257.5 L668.3 257.6 L670.3 257.6 L672.3 257.7 L674.3 257.7 L676.3 257.8 L678.3 257.8 L680.3 257.8 L682.3 257.9 L684.3 257.9 L686.4 258 L688.4 258 L690.4 258.1 L692.4 258.1 L694.4 258.2 L696.4 258.2 L698.4 258.2 L700.4 258.3 L702.4 258.3 L704.4 258.4 L706.4 258.4 L708.4 258.5 L710.4 258.5 L712.4 258.6 L714.4 258.6 L716.4 258.7 L718.4 258.7 L720.4 258.7 L722.4 258.8 L724.4 258.8 L726.5 258.9 L728.5 258.9 L730.5 259 L732.5 259 L734.5 259.1 L736.5 259.1 L738.5 259.1 L740.5 259.2 L742.5 259.2 L744.5 259.3 L746.5 259.3 L748.5 259.4 L750.5 259.4 L752.5 259.5 L754.5 259.5 L756.5 259.6 L758.5 259.6 L760.5 259.6 L762.5 259.7 L764.5 259.7 L766.6 259.8 L768.6 259.8 L770.6 259.9 L772.6 259.9 L774.6 260 L776.6 260 L778.6 260 L780.6 260.1 L782.6 260.1 L784.6 260.2 L786.6 260.2 L788.6 260.3 L790.6 260.3 L792.6 260.4 L794.6 260.4 L796.6 260.5 L798.6 260.5 L800.6 260.5 L802.6 260.6 L804.6 260.6 L806.7 260.7 L808.7 260.7 L810.7 260.8 L812.7 260.8 L814.7 260.9 L816.7 260.9 L818.7 261 L820.7 261 L822.7 261 L824.7 261.1 L826.7 261.1 L828.7 261.2 L830.7 261.2 L832.7 261.3 L834.7 261.3 L836.7 261.4 L838.7 261.4 L840.7 261.4 L842.7 261.5 L844.8 261.5 L846.8 261.6 L848.8 261.6 L850.8 261.7 L852.8 261.7 L854.8 261.8 L856.8 261.8 L858.8 261.9 L860.8 261.9 L862.8 261.9 L864.8 262 L866.8 262 L868.8 262.1 L870.8 262.1 L872.8 262.2 L874.8 262.2 L876.8 262.3 L878.8 262.3 L880.8 262.3 L882.8 262.4 L884.8 262.4 L886.9 262.5 L888.9 262.5 L890.9 262.6 L892.9 262.6 L894.9 262.7 L896.9 262.7 L898.9 262.8 L900.9 262.8 L902.9 262.8 L904.9 262.9 L906.9 262.9 L908.9 263 L910.9 263 L912.9 263.1 L914.9 263.1 L916.9 263.2 L918.9 263.2 L920.9 263.2 L922.9 263.3 L924.9 263.3 L927 263.4 L929 263.4 L931 263.5 L933 263.5 L935 263.6 L937 263.6 L939 263.7 L941 263.7 L943 263.7 L945 263.8 L947 263.8 L949 263.9 L951 263.9 L953 264 L955 264 L957 264.1 L959 264.1 L961 264.1 L963 264.2 L965 264.2 L967.1 264.3 L969.1 264.3 L971.1 264.4 L973.1 264.4 L975.1 264.5 L977.1 264.5 L979.1 264.6 L981.1 264.6 L983.1 264.6 L985.1 264.7 L987.1 264.7 L989.1 264.8 L991.1 264.8 L993.1 264.9 L995.1 264.9 L997.1 265 L999.1 265 L1001.1 265 L1003.1 265.1 L1005.1 265.1 L1007.2 265.2 L1009.2 265.2 L1011.2 265.3 L1013.2 265.3 L1015.2 265.4 L1017.2 265.4 L1019.2 265.5 L1021.2 265.5 L1023.2 265.5 L1025.2 265.6 L1027.2 265.6 L1029.2 265.7 L1031.2 265.7 L1033.2 265.8 L1035.2 265.8 L1037.2 265.9 L1039.2 265.9 L1041.2 265.9 L1043.2 266 L1045.2 266 L1047.3 266.1 L1049.3 266.1 L1051.3 266.2 L1053.3 266.2 L1055.3 266.3 L1057.3 266.3 L1059.3 266.4 L1061.3 266.4 L1063.3 266.4 L1065.3 266.5 L1067.3 266.5 L1069.3 266.6 L1071.3 266.6 L1073.3 266.7 L1075.3 266.7 L1077.3 266.8 L1079.3 266.8 L1081.3 266.9 L1083.3 266.9 L1085.3 266.9 L1087.4 267 L1089.4 267 L1091.4 267.1 L1093.4 267.1 L1095.4 267.2 L1097.4 267.2 L1099.4 267.3 L1101.4 267.3 L1103.4 267.3 L1105.4 267.4 L1107.4 267.4 L1109.4 267.5 L1111.4 267.5 L1113.4 267.6 L1115.4 267.6 L1117.4 267.7 L1119.4 267.7 L1121.4 267.8 L1123.4 267.8 L1125.4 267.8 L1127.5 267.9 L1129.5 267.9 L1131.5 268 L1133.5 268 L1135.5 268.1 L1137.5 268.1 L1139.5 268.2 L1141.5 268.2 L1143.5 268.2 L1145.5 268.3" fill="none" stroke="#31a4c3" stroke-width="2.4" stroke-linejoin="round"/>
<path d="M664.3 285.3 L666.3 285.4 L668.3 285.5 L670.3 285.5 L672.3 285.6 L674.3 285.7 L676.3 285.7 L678.3 285.8 L680.3 285.8 L682.3 285.9 L684.3 286 L686.4 286 L688.4 286.1 L690.4 286.2 L692.4 286.2 L694.4 286.3 L696.4 286.4 L698.4 286.4 L700.4 286.5 L702.4 286.6 L704.4 286.6 L706.4 286.7 L708.4 286.7 L710.4 286.8 L712.4 286.9 L714.4 286.9 L716.4 287 L718.4 287.1 L720.4 287.1 L722.4 287.2 L724.4 287.3 L726.5 287.3 L728.5 287.4 L730.5 287.5 L732.5 287.5 L734.5 287.6 L736.5 287.6 L738.5 287.7 L740.5 287.8 L742.5 287.8 L744.5 287.9 L746.5 288 L748.5 288 L750.5 288.1 L752.5 288.2 L754.5 288.2 L756.5 288.3 L758.5 288.4 L760.5 288.4 L762.5 288.5 L764.5 288.5 L766.6 288.6 L768.6 288.7 L770.6 288.7 L772.6 288.8 L774.6 288.9 L776.6 288.9 L778.6 289 L780.6 289.1 L782.6 289.1 L784.6 289.2 L786.6 289.3 L788.6 289.3 L790.6 289.4 L792.6 289.4 L794.6 289.5 L796.6 289.6 L798.6 289.6 L800.6 289.7 L802.6 289.8 L804.6 289.8 L806.7 289.9 L808.7 290 L810.7 290 L812.7 290.1 L814.7 290.2 L816.7 290.2 L818.7 290.3 L820.7 290.4 L822.7 290.4 L824.7 290.5 L826.7 290.5 L828.7 290.6 L830.7 290.7 L832.7 290.7 L834.7 290.8 L836.7 290.9 L838.7 290.9 L840.7 291 L842.7 291.1 L844.8 291.1 L846.8 291.2 L848.8 291.3 L850.8 291.3 L852.8 291.4 L854.8 291.4 L856.8 291.5 L858.8 291.6 L860.8 291.6 L862.8 291.7 L864.8 291.8 L866.8 291.8 L868.8 291.9 L870.8 292 L872.8 292 L874.8 292.1 L876.8 292.2 L878.8 292.2 L880.8 292.3 L882.8 292.3 L884.8 292.4 L886.9 292.5 L888.9 292.5 L890.9 292.6 L892.9 292.7 L894.9 292.7 L896.9 292.8 L898.9 292.9 L900.9 292.9 L902.9 293 L904.9 293.1 L906.9 293.1 L908.9 293.2 L910.9 293.2 L912.9 293.3 L914.9 293.4 L916.9 293.4 L918.9 293.5 L920.9 293.6 L922.9 293.6 L924.9 293.7 L927 293.8 L929 293.8 L931 293.9 L933 294 L935 294 L937 294.1 L939 294.1 L941 294.2 L943 294.3 L945 294.3 L947 294.4 L949 294.5 L951 294.5 L953 294.6 L955 294.7 L957 294.7 L959 294.8 L961 294.9 L963 294.9 L965 295 L967.1 295 L969.1 295.1 L971.1 295.2 L973.1 295.2 L975.1 295.3 L977.1 295.4 L979.1 295.4 L981.1 295.5 L983.1 295.6 L985.1 295.6 L987.1 295.7 L989.1 295.8 L991.1 295.8 L993.1 295.9 L995.1 295.9 L997.1 296 L999.1 296.1 L1001.1 296.1 L1003.1 296.2 L1005.1 296.3 L1007.2 296.3 L1009.2 296.4 L1011.2 296.5 L1013.2 296.5 L1015.2 296.6 L1017.2 296.7 L1019.2 296.7 L1021.2 296.8 L1023.2 296.8 L1025.2 296.9 L1027.2 297 L1029.2 297 L1031.2 297.1 L1033.2 297.2 L1035.2 297.2 L1037.2 297.3 L1039.2 297.4 L1041.2 297.4 L1043.2 297.5 L1045.2 297.6 L1047.3 297.6 L1049.3 297.7 L1051.3 297.8 L1053.3 297.8 L1055.3 297.9 L1057.3 297.9 L1059.3 298 L1061.3 298.1 L1063.3 298.1 L1065.3 298.2 L1067.3 298.3 L1069.3 298.3 L1071.3 298.4 L1073.3 298.5 L1075.3 298.5 L1077.3 298.6 L1079.3 298.7 L1081.3 298.7 L1083.3 298.8 L1085.3 298.8 L1087.4 298.9 L1089.4 299 L1091.4 299 L1093.4 299.1 L1095.4 299.2 L1097.4 299.2 L1099.4 299.3 L1101.4 299.4 L1103.4 299.4 L1105.4 299.5 L1107.4 299.6 L1109.4 299.6 L1111.4 299.7 L1113.4 299.7 L1115.4 299.8 L1117.4 299.9 L1119.4 299.9 L1121.4 300 L1123.4 300.1 L1125.4 300.1 L1127.5 300.2 L1129.5 300.3 L1131.5 300.3 L1133.5 300.4 L1135.5 300.5 L1137.5 300.5 L1139.5 300.6 L1141.5 300.6 L1143.5 300.7 L1145.5 300.8" fill="none" stroke="#8ed2bb" stroke-width="2.4" stroke-linejoin="round"/>
</g>
<rect x="664.3" y="35.1" width="481.2" height="608.9" fill="none" stroke="#2e2e2e" stroke-width="1.7"/>
<line x1="684.5" y1="644" x2="684.5" y2="651.4" stroke="#2e2e2e" stroke-width="1.7"/>
<text class="xt" transform="translate(685.1 674.4) scale(1 1.05)" text-anchor="middle">0</text>
<line x1="772.1" y1="644" x2="772.1" y2="651.4" stroke="#2e2e2e" stroke-width="1.7"/>
<text class="xt" transform="translate(772.7 674.4) scale(1 1.05)" text-anchor="middle">1</text>
<line x1="859.6" y1="644" x2="859.6" y2="651.4" stroke="#2e2e2e" stroke-width="1.7"/>
<text class="xt" transform="translate(860.2 674.4) scale(1 1.05)" text-anchor="middle">2</text>
<line x1="947.2" y1="644" x2="947.2" y2="651.4" stroke="#2e2e2e" stroke-width="1.7"/>
<text class="xt" transform="translate(947.8 674.4) scale(1 1.05)" text-anchor="middle">3</text>
<line x1="1034.7" y1="644" x2="1034.7" y2="651.4" stroke="#2e2e2e" stroke-width="1.7"/>
<text class="xt" transform="translate(1035.3 674.4) scale(1 1.05)" text-anchor="middle">4</text>
<line x1="1122.3" y1="644" x2="1122.3" y2="651.4" stroke="#2e2e2e" stroke-width="1.7"/>
<text class="xt" transform="translate(1122.9 674.4) scale(1 1.05)" text-anchor="middle">5</text>
<line x1="656.6" y1="90" x2="664.3" y2="90" stroke="#2e2e2e" stroke-width="1.7"/>
<text class="tk" x="649.6" y="99.1" text-anchor="end">2</text>
<line x1="656.6" y1="216.1" x2="664.3" y2="216.1" stroke="#2e2e2e" stroke-width="1.7"/>
<text class="tk" x="649.6" y="225.2" text-anchor="end">0</text>
<line x1="656.6" y1="342.2" x2="664.3" y2="342.2" stroke="#2e2e2e" stroke-width="1.7"/>
<text class="tk" x="649.6" y="351.3" text-anchor="end">−2</text>
<line x1="656.6" y1="468.3" x2="664.3" y2="468.3" stroke="#2e2e2e" stroke-width="1.7"/>
<text class="tk" x="649.6" y="477.4" text-anchor="end">−4</text>
<line x1="656.6" y1="594.4" x2="664.3" y2="594.4" stroke="#2e2e2e" stroke-width="1.7"/>
<text class="tk" x="649.6" y="603.5" text-anchor="end">−6</text>
<text class="lb" x="904.9" y="704.5" text-anchor="middle"><tspan style="font-size:23.1px">Δ</tspan>GMT (°C)</text>
<g transform="translate(600.1 339.6) rotate(-90)"><text class="lb" x="-75.5" y="0" style="font-size:23.1px">Δ</text><text class="lb it" x="-59.8" y="0" style="font-size:23.7px">T</text><text class="sub" x="-45.3" y="3.8" style="font-size:16.8px">c</text><text class="sub" x="-35.7" y="3.8" style="font-size:16.8px;font-style:normal">,</text><text class="sub" x="-26.6" y="3.8" style="font-size:16.8px">mean</text><text class="lb" x="30" y="0">(°C)</text></g>
<text class="let" transform="translate(664.5 23.5) scale(1 1.04)">(b)</text>
<text class="tt" y="23.8"><tspan x="707.9" style="letter-spacing:0.2px">Temperature offset </tspan><tspan x="989" dy="-0.5" style="font-size:27px">Δ</tspan><tspan class="it" x="1007.7">T</tspan><tspan class="sub" dy="4.3" x="1024.2">c</tspan><tspan class="sub" style="font-style:normal" x="1036.2">,</tspan><tspan class="sub" x="1046.5">mean</tspan></text>
<line x1="685.8" y1="539.1" x2="733.7" y2="539.1" stroke="#12256f" stroke-width="2.4" stroke-linecap="square"/>
<text class="lg" x="752.6" y="547.5">boreal, s=0.01</text>
<line x1="685.8" y1="574.2" x2="733.7" y2="574.2" stroke="#31a4c3" stroke-width="2.4" stroke-linecap="square"/>
<text class="lg" x="752.6" y="582.6">temperate, s=-0.03</text>
<line x1="685.8" y1="609.3" x2="733.7" y2="609.3" stroke="#8ed2bb" stroke-width="2.4" stroke-linecap="square"/>
<text class="lg" x="752.6" y="617.7">tropical, s=-0.04</text>
</g>
<g id="panel-c">
<g clip-path="url(#clip2)">
<path d="M1240.9 68.3 L1242.9 68 L1244.9 67.7 L1246.9 67.4 L1248.9 67.1 L1250.9 66.9 L1252.9 66.6 L1254.9 66.3 L1256.9 66 L1258.9 65.7 L1261 65.3 L1263 64 L1265 62.7 L1267 64.7 L1269 66.7 L1271 67 L1273 67.1 L1275 67.1 L1277 67.2 L1279 67.3 L1281 67.4 L1283 67.5 L1285 67.6 L1287 67.7 L1289 67.8 L1291 67.9 L1293 68 L1295 68.1 L1297 68.2 L1299 68.3 L1301.1 68.4 L1303.1 68.5 L1305.1 68.6 L1307.1 68.6 L1309.1 68.7 L1311.1 68.8 L1313.1 69.1 L1315.1 69.3 L1317.1 69.5 L1319.1 69.8 L1321.1 70 L1323.1 70.3 L1325.1 70.5 L1327.1 70.7 L1329.1 71 L1331.1 71.2 L1333.1 71.5 L1335.1 71.7 L1337.1 71.9 L1339.1 72.2 L1341.2 72.4 L1343.2 72.7 L1345.2 72.9 L1347.2 73.1 L1349.2 73.4 L1351.2 73.6 L1353.2 73.9 L1355.2 73.9 L1357.2 73.9 L1359.2 73.9 L1361.2 73.9 L1363.2 73.9 L1365.2 73.9 L1367.2 73.9 L1369.2 73.9 L1371.2 73.9 L1373.2 73.9 L1375.2 73.9 L1377.2 73.9 L1379.2 73.9 L1381.2 73.9 L1383.3 73.9 L1385.3 73.9 L1387.3 73.9 L1389.3 73.9 L1391.3 73.9 L1393.3 73.9 L1395.3 73.9 L1397.3 74.1 L1399.3 74.3 L1401.3 74.5 L1403.3 74.7 L1405.3 74.9 L1407.3 75.1 L1409.3 75.3 L1411.3 75.5 L1413.3 75.7 L1415.3 75.9 L1417.3 76.1 L1419.3 76.3 L1421.4 76.5 L1423.4 76.7 L1425.4 76.9 L1427.4 77.1 L1429.4 77.3 L1431.4 77.5 L1433.4 77.7 L1435.4 77.9 L1437.4 78.1 L1439.4 78.1 L1441.4 78.1 L1443.4 78 L1445.4 78 L1447.4 78 L1449.4 78 L1451.4 77.9 L1453.4 77.9 L1455.4 77.9 L1457.4 77.9 L1459.4 77.8 L1461.5 77.8 L1463.5 77.8 L1465.5 77.8 L1467.5 77.7 L1469.5 77.7 L1471.5 77.7 L1473.5 77.6 L1475.5 77.6 L1477.5 77.6 L1479.5 77.6 L1481.5 77.7 L1483.5 78 L1485.5 78.2 L1487.5 78.4 L1489.5 78.6 L1491.5 78.9 L1493.5 79.1 L1495.5 79.3 L1497.5 79.5 L1499.5 79.8 L1501.6 80 L1503.6 80.2 L1505.6 80.5 L1507.6 80.7 L1509.6 80.9 L1511.6 81.1 L1513.6 81.4 L1515.6 81.6 L1517.6 81.8 L1519.6 82 L1521.6 82.3 L1523.6 82.4 L1525.6 82.5 L1527.6 82.6 L1529.6 82.7 L1531.6 82.8 L1533.6 82.9 L1535.6 83 L1537.6 83.1 L1539.6 83.2 L1541.7 83.2 L1543.7 83.3 L1545.7 83.4 L1547.7 83.5 L1549.7 83.6 L1551.7 83.7 L1553.7 83.8 L1555.7 83.9 L1557.7 84 L1559.7 84.1 L1561.7 84.2 L1563.7 84.3 L1565.7 84.4 L1567.7 84.5 L1569.7 84.7 L1571.7 84.8 L1573.7 84.9 L1575.7 85.1 L1577.7 85.2 L1579.7 85.3 L1581.8 85.5 L1583.8 85.6 L1585.8 85.7 L1587.8 85.9 L1589.8 86 L1591.8 86.1 L1593.8 86.3 L1595.8 86.4 L1597.8 86.5 L1599.8 86.7 L1601.8 86.8 L1603.8 86.9 L1605.8 87.1 L1607.8 87.3 L1609.8 87.5 L1611.8 87.8 L1613.8 88.1 L1615.8 88.3 L1617.8 88.6 L1619.8 88.8 L1621.9 89.1 L1623.9 89.4 L1625.9 89.6 L1627.9 89.9 L1629.9 90.1 L1631.9 90.4 L1633.9 90.7 L1635.9 90.9 L1637.9 91 L1639.9 91.1 L1641.9 91.3 L1643.9 91.4 L1645.9 91.5 L1647.9 91.7 L1649.9 91.8 L1651.9 91.9 L1653.9 92.1 L1655.9 92.2 L1657.9 92.3 L1659.9 92.5 L1662 92.6 L1664 92.7 L1666 92.9 L1668 93 L1670 93.1 L1672 93.3 L1674 93.4 L1676 93.5 L1678 93.7 L1680 93.9 L1682 94.1 L1684 94.3 L1686 94.5 L1688 94.7 L1690 95 L1692 95.2 L1694 95.4 L1696 95.6 L1698 95.8 L1700 96 L1702.1 96.2 L1704.1 96.4 L1706.1 96.6 L1708.1 96.8 L1710.1 97 L1712.1 97.2 L1714.1 97.4 L1716.1 97.7 L1718.1 97.9 L1720.1 98.1 L1722.1 98.3 L1722.1 344.6 L1720.1 344.4 L1718.1 344.1 L1716.1 343.9 L1714.1 343.7 L1712.1 343.5 L1710.1 343.2 L1708.1 343 L1706.1 342.8 L1704.1 342.6 L1702.1 342.5 L1700 342.5 L1698 342.4 L1696 342.3 L1694 342.2 L1692 342.2 L1690 342.1 L1688 342 L1686 342 L1684 341.9 L1682 341.8 L1680 341.7 L1678 341.7 L1676 341.7 L1674 341.9 L1672 342.1 L1670 342.3 L1668 342.5 L1666 342.7 L1664 342.9 L1662 343 L1659.9 343.2 L1657.9 343.4 L1655.9 343.4 L1653.9 343.1 L1651.9 342.9 L1649.9 342.7 L1647.9 342.5 L1645.9 342.3 L1643.9 342.1 L1641.9 341.8 L1639.9 341.6 L1637.9 341.4 L1635.9 341.2 L1633.9 341 L1631.9 340.7 L1629.9 340.5 L1627.9 340.3 L1625.9 340.1 L1623.9 339.9 L1621.9 339.6 L1619.8 339.4 L1617.8 339.2 L1615.8 339 L1613.8 338.8 L1611.8 338.5 L1609.8 338.3 L1607.8 338.1 L1605.8 338 L1603.8 337.9 L1601.8 337.9 L1599.8 337.9 L1597.8 337.8 L1595.8 337.8 L1593.8 337.8 L1591.8 337.8 L1589.8 337.7 L1587.8 337.7 L1585.8 337.7 L1583.8 337.7 L1581.8 337.6 L1579.7 337.6 L1577.7 337.6 L1575.7 337.6 L1573.7 337.5 L1571.7 337.5 L1569.7 337.5 L1567.7 337.4 L1565.7 337.4 L1563.7 337.4 L1561.7 337.4 L1559.7 337.4 L1557.7 337.4 L1555.7 337.3 L1553.7 337.3 L1551.7 337.3 L1549.7 337.3 L1547.7 337.3 L1545.7 337.3 L1543.7 337.3 L1541.7 337.2 L1539.6 337.2 L1537.6 337.2 L1535.6 337.2 L1533.6 337.2 L1531.6 337.2 L1529.6 337.2 L1527.6 337.2 L1525.6 337.1 L1523.6 337.1 L1521.6 337.1 L1519.6 336.9 L1517.6 336.8 L1515.6 336.6 L1513.6 336.5 L1511.6 336.3 L1509.6 336.2 L1507.6 336 L1505.6 335.9 L1503.6 335.8 L1501.6 335.6 L1499.5 335.5 L1497.5 335.3 L1495.5 335.2 L1493.5 335 L1491.5 334.9 L1489.5 334.7 L1487.5 334.6 L1485.5 334.4 L1483.5 334.3 L1481.5 334.1 L1479.5 334 L1477.5 334 L1475.5 333.9 L1473.5 333.9 L1471.5 333.8 L1469.5 333.7 L1467.5 333.7 L1465.5 333.6 L1463.5 333.6 L1461.5 333.5 L1459.4 333.5 L1457.4 333.4 L1455.4 333.4 L1453.4 333.3 L1451.4 333.3 L1449.4 333.2 L1447.4 333.2 L1445.4 333.1 L1443.4 333.1 L1441.4 333 L1439.4 332.9 L1437.4 332.9 L1435.4 332.8 L1433.4 332.6 L1431.4 332.5 L1429.4 332.4 L1427.4 332.3 L1425.4 332.2 L1423.4 332 L1421.4 331.9 L1419.3 331.8 L1417.3 331.7 L1415.3 331.6 L1413.3 331.4 L1411.3 331.3 L1409.3 331.2 L1407.3 331.1 L1405.3 330.9 L1403.3 330.8 L1401.3 330.7 L1399.3 330.6 L1397.3 330.5 L1395.3 330.4 L1393.3 330.6 L1391.3 330.8 L1389.3 331 L1387.3 331.2 L1385.3 331.4 L1383.3 331.6 L1381.2 331.8 L1379.2 332 L1377.2 332.2 L1375.2 332.4 L1373.2 332.6 L1371.2 332.3 L1369.2 332.1 L1367.2 331.8 L1365.2 331.5 L1363.2 331.2 L1361.2 330.9 L1359.2 330.6 L1357.2 330.3 L1355.2 330.1 L1353.2 329.8 L1351.2 329.7 L1349.2 329.6 L1347.2 329.6 L1345.2 329.5 L1343.2 329.4 L1341.2 329.3 L1339.1 329.2 L1337.1 329.2 L1335.1 329.1 L1333.1 329 L1331.1 328.9 L1329.1 328.8 L1327.1 328.8 L1325.1 328.7 L1323.1 328.6 L1321.1 328.5 L1319.1 328.4 L1317.1 328.4 L1315.1 328.3 L1313.1 328.2 L1311.1 328.1 L1309.1 328.2 L1307.1 328.2 L1305.1 328.3 L1303.1 328.4 L1301.1 328.4 L1299 328.5 L1297 328.5 L1295 328.6 L1293 328.6 L1291 328.7 L1289 328.8 L1287 328.8 L1285 328.9 L1283 328.9 L1281 329 L1279 328.7 L1277 328.3 L1275 327.9 L1273 327.5 L1271 327.1 L1269 326.7 L1267 326.3 L1265 325.9 L1263 326.4 L1261 326.9 L1258.9 327.1 L1256.9 327.2 L1254.9 327.3 L1252.9 327.4 L1250.9 327.6 L1248.9 327.7 L1246.9 327.8 L1244.9 327.9 L1242.9 328 L1240.9 328.1Z" fill="#12256f" fill-opacity="0.15" stroke="none"/>
<path d="M1240.9 154.6 L1242.9 154.8 L1244.9 155 L1246.9 155.2 L1248.9 155.4 L1250.9 155.5 L1252.9 155.7 L1254.9 155.9 L1256.9 156.1 L1258.9 156.3 L1261 156.5 L1263 156.7 L1265 156.8 L1267 157 L1269 157.2 L1271 157.4 L1273 157.6 L1275 157.8 L1277 158 L1279 158.2 L1281 158.3 L1283 158.5 L1285 158.7 L1287 158.9 L1289 159.1 L1291 159.3 L1293 159.5 L1295 159.7 L1297 159.8 L1299 160 L1301.1 160.2 L1303.1 160.4 L1305.1 160.6 L1307.1 160.8 L1309.1 161 L1311.1 161.2 L1313.1 161.3 L1315.1 161.5 L1317.1 161.7 L1319.1 161.9 L1321.1 162.1 L1323.1 162.3 L1325.1 162.5 L1327.1 162.7 L1329.1 162.8 L1331.1 163 L1333.1 163.2 L1335.1 163.4 L1337.1 163.6 L1339.1 163.8 L1341.2 164 L1343.2 164.1 L1345.2 164.3 L1347.2 164.5 L1349.2 164.7 L1351.2 164.9 L1353.2 165.1 L1355.2 165.3 L1357.2 165.5 L1359.2 165.6 L1361.2 165.8 L1363.2 166 L1365.2 166.2 L1367.2 166.4 L1369.2 166.6 L1371.2 166.8 L1373.2 167 L1375.2 167.1 L1377.2 167.3 L1379.2 167.5 L1381.2 167.7 L1383.3 167.9 L1385.3 168.1 L1387.3 168.3 L1389.3 168.5 L1391.3 168.6 L1393.3 168.8 L1395.3 169 L1397.3 169.2 L1399.3 169.4 L1401.3 169.6 L1403.3 169.8 L1405.3 170 L1407.3 170.1 L1409.3 170.3 L1411.3 170.5 L1413.3 170.7 L1415.3 170.9 L1417.3 171.1 L1419.3 171.3 L1421.4 171.4 L1423.4 171.6 L1425.4 171.8 L1427.4 172 L1429.4 172.2 L1431.4 172.4 L1433.4 172.6 L1435.4 172.8 L1437.4 172.9 L1439.4 173.1 L1441.4 173.3 L1443.4 173.5 L1445.4 173.7 L1447.4 173.9 L1449.4 174.1 L1451.4 174.3 L1453.4 174.4 L1455.4 174.6 L1457.4 174.8 L1459.4 175 L1461.5 175.2 L1463.5 175.4 L1465.5 175.6 L1467.5 175.8 L1469.5 175.9 L1471.5 176.1 L1473.5 176.3 L1475.5 176.5 L1477.5 176.7 L1479.5 176.9 L1481.5 177.1 L1483.5 177.2 L1485.5 177.4 L1487.5 177.6 L1489.5 177.7 L1491.5 177.9 L1493.5 178.1 L1495.5 178.3 L1497.5 178.4 L1499.5 178.6 L1501.6 178.8 L1503.6 178.9 L1505.6 179.1 L1507.6 179.3 L1509.6 179.5 L1511.6 179.6 L1513.6 179.8 L1515.6 180 L1517.6 180.1 L1519.6 180.3 L1521.6 180.5 L1523.6 180.7 L1525.6 180.8 L1527.6 181 L1529.6 181.2 L1531.6 181.3 L1533.6 181.5 L1535.6 181.7 L1537.6 181.8 L1539.6 182 L1541.7 182.2 L1543.7 182.4 L1545.7 182.5 L1547.7 182.7 L1549.7 182.9 L1551.7 183 L1553.7 183.2 L1555.7 183.4 L1557.7 183.6 L1559.7 183.7 L1561.7 183.9 L1563.7 184.1 L1565.7 184.2 L1567.7 184.4 L1569.7 184.6 L1571.7 184.8 L1573.7 184.9 L1575.7 185.1 L1577.7 185.3 L1579.7 185.4 L1581.8 185.6 L1583.8 185.8 L1585.8 185.9 L1587.8 186.1 L1589.8 186.3 L1591.8 186.5 L1593.8 186.6 L1595.8 186.8 L1597.8 187 L1599.8 187.1 L1601.8 187.3 L1603.8 187.5 L1605.8 187.7 L1607.8 187.8 L1609.8 188 L1611.8 188.2 L1613.8 188.3 L1615.8 188.5 L1617.8 188.7 L1619.8 188.9 L1621.9 189 L1623.9 189.2 L1625.9 189.4 L1627.9 189.5 L1629.9 189.7 L1631.9 189.9 L1633.9 190 L1635.9 190.2 L1637.9 190.4 L1639.9 190.6 L1641.9 190.7 L1643.9 190.9 L1645.9 191.1 L1647.9 191.2 L1649.9 191.4 L1651.9 191.6 L1653.9 191.8 L1655.9 191.9 L1657.9 192.1 L1659.9 192.3 L1662 192.4 L1664 192.6 L1666 192.8 L1668 192.9 L1670 193.1 L1672 193.3 L1674 193.5 L1676 193.6 L1678 193.8 L1680 194 L1682 194.1 L1684 194.3 L1686 194.5 L1688 194.7 L1690 194.8 L1692 195 L1694 195.2 L1696 195.3 L1698 195.5 L1700 195.7 L1702.1 195.9 L1704.1 196 L1706.1 196.2 L1708.1 196.4 L1710.1 196.5 L1712.1 196.7 L1714.1 196.9 L1716.1 197 L1718.1 197.2 L1720.1 197.4 L1722.1 197.6 L1722.1 513.2 L1720.1 513.1 L1718.1 513.1 L1716.1 513 L1714.1 513 L1712.1 512.9 L1710.1 512.8 L1708.1 512.8 L1706.1 512.7 L1704.1 512.7 L1702.1 512.6 L1700 512.6 L1698 512.5 L1696 512.4 L1694 512.4 L1692 512.3 L1690 512.3 L1688 512.2 L1686 512.2 L1684 512.1 L1682 512.1 L1680 512 L1678 511.9 L1676 511.9 L1674 511.8 L1672 511.8 L1670 511.7 L1668 511.7 L1666 511.6 L1664 511.5 L1662 511.5 L1659.9 511.4 L1657.9 511.4 L1655.9 511.3 L1653.9 511.3 L1651.9 511.2 L1649.9 511.1 L1647.9 511.1 L1645.9 511 L1643.9 511 L1641.9 510.9 L1639.9 510.9 L1637.9 510.8 L1635.9 510.8 L1633.9 510.7 L1631.9 510.6 L1629.9 510.6 L1627.9 510.5 L1625.9 510.5 L1623.9 510.4 L1621.9 510.4 L1619.8 510.3 L1617.8 510.2 L1615.8 510.2 L1613.8 510.1 L1611.8 510.1 L1609.8 510 L1607.8 510 L1605.8 509.9 L1603.8 509.9 L1601.8 509.8 L1599.8 509.7 L1597.8 509.6 L1595.8 509.5 L1593.8 509.5 L1591.8 509.4 L1589.8 509.3 L1587.8 509.2 L1585.8 509.1 L1583.8 509 L1581.8 508.9 L1579.7 508.9 L1577.7 508.8 L1575.7 508.7 L1573.7 508.6 L1571.7 508.5 L1569.7 508.4 L1567.7 508.3 L1565.7 508.3 L1563.7 508.2 L1561.7 508.1 L1559.7 508 L1557.7 507.9 L1555.7 507.8 L1553.7 507.7 L1551.7 507.7 L1549.7 507.6 L1547.7 507.5 L1545.7 507.4 L1543.7 507.3 L1541.7 507.2 L1539.6 507.1 L1537.6 507.1 L1535.6 507 L1533.6 506.9 L1531.6 506.8 L1529.6 506.7 L1527.6 506.6 L1525.6 506.5 L1523.6 506.5 L1521.6 506.4 L1519.6 506.3 L1517.6 506.2 L1515.6 506.1 L1513.6 506 L1511.6 505.9 L1509.6 505.8 L1507.6 505.8 L1505.6 505.7 L1503.6 505.6 L1501.6 505.5 L1499.5 505.4 L1497.5 505.3 L1495.5 505.2 L1493.5 505.2 L1491.5 505.1 L1489.5 505 L1487.5 504.9 L1485.5 504.8 L1483.5 504.7 L1481.5 504.6 L1479.5 504.6 L1477.5 504.5 L1475.5 504.4 L1473.5 504.3 L1471.5 504.2 L1469.5 504.1 L1467.5 504 L1465.5 503.9 L1463.5 503.8 L1461.5 503.7 L1459.4 503.6 L1457.4 503.5 L1455.4 503.4 L1453.4 503.3 L1451.4 503.2 L1449.4 503.1 L1447.4 503 L1445.4 502.9 L1443.4 502.8 L1441.4 502.7 L1439.4 502.6 L1437.4 502.5 L1435.4 502.4 L1433.4 502.3 L1431.4 502.2 L1429.4 502.1 L1427.4 502 L1425.4 501.9 L1423.4 501.8 L1421.4 501.7 L1419.3 501.6 L1417.3 501.5 L1415.3 501.4 L1413.3 501.3 L1411.3 501.2 L1409.3 501.1 L1407.3 501 L1405.3 500.9 L1403.3 500.9 L1401.3 500.8 L1399.3 500.7 L1397.3 500.6 L1395.3 500.5 L1393.3 500.4 L1391.3 500.3 L1389.3 500.2 L1387.3 500.1 L1385.3 500 L1383.3 499.9 L1381.2 499.8 L1379.2 499.7 L1377.2 499.6 L1375.2 499.5 L1373.2 499.4 L1371.2 499.3 L1369.2 499.2 L1367.2 499.1 L1365.2 499 L1363.2 498.9 L1361.2 498.8 L1359.2 498.7 L1357.2 498.6 L1355.2 498.5 L1353.2 498.3 L1351.2 498.2 L1349.2 498.1 L1347.2 498 L1345.2 497.9 L1343.2 497.8 L1341.2 497.7 L1339.1 497.5 L1337.1 497.4 L1335.1 497.3 L1333.1 497.2 L1331.1 497.1 L1329.1 497 L1327.1 496.9 L1325.1 496.7 L1323.1 496.6 L1321.1 496.5 L1319.1 496.4 L1317.1 496.3 L1315.1 496.2 L1313.1 496.1 L1311.1 495.9 L1309.1 495.8 L1307.1 495.7 L1305.1 495.6 L1303.1 495.5 L1301.1 495.4 L1299 495.3 L1297 495.1 L1295 495 L1293 494.9 L1291 494.8 L1289 494.7 L1287 494.6 L1285 494.5 L1283 494.3 L1281 494.2 L1279 494.1 L1277 494 L1275 493.9 L1273 493.8 L1271 493.7 L1269 493.5 L1267 493.4 L1265 493.3 L1263 493.2 L1261 493.1 L1258.9 493 L1256.9 492.8 L1254.9 492.7 L1252.9 492.6 L1250.9 492.5 L1248.9 492.4 L1246.9 492.3 L1244.9 492.2 L1242.9 492 L1240.9 491.9Z" fill="#31a4c3" fill-opacity="0.15" stroke="none"/>
<path d="M1240.9 277.2 L1242.9 277.5 L1244.9 277.8 L1246.9 278.1 L1248.9 278.4 L1250.9 278.7 L1252.9 279 L1254.9 279.3 L1256.9 279.6 L1258.9 279.9 L1261 280.2 L1263 280.5 L1265 280.8 L1267 281.2 L1269 281.5 L1271 281.8 L1273 282.1 L1275 282.4 L1277 282.7 L1279 283 L1281 283.3 L1283 283.6 L1285 283.9 L1287 284.2 L1289 284.5 L1291 284.8 L1293 285.1 L1295 285.4 L1297 285.8 L1299 286.1 L1301.1 286.4 L1303.1 286.7 L1305.1 287 L1307.1 287.3 L1309.1 287.6 L1311.1 287.9 L1313.1 288.2 L1315.1 288.6 L1317.1 288.9 L1319.1 289.2 L1321.1 289.5 L1323.1 289.9 L1325.1 290.2 L1327.1 290.5 L1329.1 290.9 L1331.1 291.2 L1333.1 291.5 L1335.1 291.8 L1337.1 292.2 L1339.1 292.5 L1341.2 292.8 L1343.2 293.1 L1345.2 293.5 L1347.2 293.8 L1349.2 294.1 L1351.2 294.4 L1353.2 294.8 L1355.2 295.1 L1357.2 295.4 L1359.2 295.7 L1361.2 296.1 L1363.2 296.4 L1365.2 296.7 L1367.2 297.1 L1369.2 297.4 L1371.2 297.7 L1373.2 298 L1375.2 298.4 L1377.2 298.7 L1379.2 299.1 L1381.2 299.7 L1383.3 300.3 L1385.3 300.9 L1387.3 301.5 L1389.3 302.1 L1391.3 302.7 L1393.3 303.3 L1395.3 303.8 L1397.3 304.4 L1399.3 305 L1401.3 305.6 L1403.3 306.2 L1405.3 306.8 L1407.3 307.4 L1409.3 308 L1411.3 308.5 L1413.3 309 L1415.3 309.3 L1417.3 309.7 L1419.3 310 L1421.4 310.3 L1423.4 310.6 L1425.4 310.9 L1427.4 311.3 L1429.4 311.6 L1431.4 311.9 L1433.4 312.2 L1435.4 312.5 L1437.4 312.9 L1439.4 313.2 L1441.4 313.5 L1443.4 313.8 L1445.4 314.1 L1447.4 314.5 L1449.4 314.8 L1451.4 315.1 L1453.4 315.4 L1455.4 315.7 L1457.4 316.1 L1459.4 316.4 L1461.5 316.7 L1463.5 317 L1465.5 317.6 L1467.5 318.3 L1469.5 318.9 L1471.5 319.6 L1473.5 320.3 L1475.5 320.9 L1477.5 321.6 L1479.5 322.3 L1481.5 322.9 L1483.5 323.5 L1485.5 324.1 L1487.5 324.8 L1489.5 325.4 L1491.5 326 L1493.5 326.6 L1495.5 327.2 L1497.5 327.8 L1499.5 328.2 L1501.6 328.5 L1503.6 328.8 L1505.6 329.1 L1507.6 329.4 L1509.6 329.7 L1511.6 330 L1513.6 330.3 L1515.6 330.6 L1517.6 330.8 L1519.6 331.1 L1521.6 331.4 L1523.6 331.7 L1525.6 332 L1527.6 332.3 L1529.6 332.6 L1531.6 332.9 L1533.6 333.2 L1535.6 333.5 L1537.6 333.7 L1539.6 334 L1541.7 334.3 L1543.7 334.6 L1545.7 334.9 L1547.7 335.2 L1549.7 335.5 L1551.7 336 L1553.7 336.5 L1555.7 337.1 L1557.7 337.6 L1559.7 338.1 L1561.7 338.7 L1563.7 339.2 L1565.7 339.7 L1567.7 340.3 L1569.7 340.8 L1571.7 341.3 L1573.7 341.9 L1575.7 342.4 L1577.7 342.9 L1579.7 343.5 L1581.8 344 L1583.8 344.5 L1585.8 345 L1587.8 345.6 L1589.8 346.1 L1591.8 346.6 L1593.8 347.2 L1595.8 347.7 L1597.8 348.2 L1599.8 348.8 L1601.8 349.2 L1603.8 349.5 L1605.8 349.8 L1607.8 350.1 L1609.8 350.4 L1611.8 350.7 L1613.8 351 L1615.8 351.3 L1617.8 351.5 L1619.8 351.8 L1621.9 352.1 L1623.9 352.4 L1625.9 352.7 L1627.9 353 L1629.9 353.3 L1631.9 353.6 L1633.9 353.9 L1635.9 354.2 L1637.9 354.5 L1639.9 354.7 L1641.9 355 L1643.9 355.3 L1645.9 355.6 L1647.9 355.9 L1649.9 356.2 L1651.9 356.5 L1653.9 356.9 L1655.9 357.4 L1657.9 357.9 L1659.9 358.4 L1662 358.9 L1664 359.4 L1666 359.9 L1668 360.3 L1670 360.8 L1672 361.3 L1674 361.8 L1676 362.3 L1678 362.8 L1680 363.3 L1682 363.8 L1684 364.3 L1686 364.8 L1688 365.2 L1690 365.6 L1692 366 L1694 366.3 L1696 366.7 L1698 367.1 L1700 367.5 L1702.1 367.9 L1704.1 368.3 L1706.1 368.6 L1708.1 369 L1710.1 369.4 L1712.1 369.8 L1714.1 370.2 L1716.1 370.6 L1718.1 370.9 L1720.1 371.3 L1722.1 371.7 L1722.1 616.7 L1720.1 616.5 L1718.1 616.3 L1716.1 616.2 L1714.1 616 L1712.1 615.8 L1710.1 615.6 L1708.1 615.4 L1706.1 615.2 L1704.1 615 L1702.1 614.8 L1700 614.6 L1698 614.4 L1696 614.2 L1694 614.1 L1692 613.9 L1690 613.7 L1688 613.5 L1686 613.3 L1684 613.1 L1682 612.9 L1680 612.7 L1678 612.5 L1676 612.3 L1674 612.2 L1672 612 L1670 611.8 L1668 611.6 L1666 611.4 L1664 611.2 L1662 611 L1659.9 610.8 L1657.9 610.6 L1655.9 610.4 L1653.9 610.2 L1651.9 610.1 L1649.9 609.9 L1647.9 609.7 L1645.9 609.5 L1643.9 609.3 L1641.9 609.1 L1639.9 608.9 L1637.9 608.7 L1635.9 608.5 L1633.9 608.3 L1631.9 608.2 L1629.9 608 L1627.9 607.8 L1625.9 607.6 L1623.9 607.4 L1621.9 607.2 L1619.8 607 L1617.8 606.8 L1615.8 606.6 L1613.8 606.4 L1611.8 606.2 L1609.8 606.1 L1607.8 605.9 L1605.8 605.7 L1603.8 605.5 L1601.8 605.3 L1599.8 605.1 L1597.8 604.9 L1595.8 604.7 L1593.8 604.5 L1591.8 604.3 L1589.8 604.1 L1587.8 604 L1585.8 603.8 L1583.8 603.6 L1581.8 603.4 L1579.7 603.2 L1577.7 603 L1575.7 602.8 L1573.7 602.6 L1571.7 602.4 L1569.7 602.2 L1567.7 602.1 L1565.7 601.9 L1563.7 601.7 L1561.7 601.5 L1559.7 601.3 L1557.7 601.1 L1555.7 600.9 L1553.7 600.7 L1551.7 600.5 L1549.7 600.3 L1547.7 600.1 L1545.7 600 L1543.7 599.8 L1541.7 599.6 L1539.6 599.4 L1537.6 599.2 L1535.6 599 L1533.6 598.8 L1531.6 598.6 L1529.6 598.4 L1527.6 598.2 L1525.6 598.1 L1523.6 597.9 L1521.6 597.7 L1519.6 597.5 L1517.6 597.3 L1515.6 597.1 L1513.6 596.9 L1511.6 596.7 L1509.6 596.5 L1507.6 596.3 L1505.6 596.1 L1503.6 596 L1501.6 595.8 L1499.5 595.6 L1497.5 595.4 L1495.5 595.2 L1493.5 595 L1491.5 594.8 L1489.5 594.6 L1487.5 594.4 L1485.5 594.2 L1483.5 594.1 L1481.5 593.9 L1479.5 593.7 L1477.5 593.6 L1475.5 593.4 L1473.5 593.3 L1471.5 593.2 L1469.5 593 L1467.5 592.9 L1465.5 592.8 L1463.5 592.6 L1461.5 592.5 L1459.4 592.4 L1457.4 592.2 L1455.4 592.1 L1453.4 592 L1451.4 591.8 L1449.4 591.7 L1447.4 591.6 L1445.4 591.4 L1443.4 591.3 L1441.4 591.2 L1439.4 591 L1437.4 590.9 L1435.4 590.8 L1433.4 590.6 L1431.4 590.5 L1429.4 590.3 L1427.4 590.2 L1425.4 590.1 L1423.4 589.9 L1421.4 589.8 L1419.3 589.7 L1417.3 589.5 L1415.3 589.4 L1413.3 589.3 L1411.3 589.1 L1409.3 589 L1407.3 588.9 L1405.3 588.7 L1403.3 588.6 L1401.3 588.5 L1399.3 588.3 L1397.3 588.2 L1395.3 588.1 L1393.3 587.9 L1391.3 587.8 L1389.3 587.7 L1387.3 587.5 L1385.3 587.4 L1383.3 587.3 L1381.2 587.1 L1379.2 587 L1377.2 586.8 L1375.2 586.7 L1373.2 586.6 L1371.2 586.4 L1369.2 586.3 L1367.2 586.2 L1365.2 586 L1363.2 585.9 L1361.2 585.8 L1359.2 585.6 L1357.2 585.5 L1355.2 585.4 L1353.2 585.2 L1351.2 585.1 L1349.2 585 L1347.2 584.8 L1345.2 584.7 L1343.2 584.6 L1341.2 584.4 L1339.1 584.3 L1337.1 584.2 L1335.1 584 L1333.1 583.9 L1331.1 583.8 L1329.1 583.6 L1327.1 583.5 L1325.1 583.3 L1323.1 583.2 L1321.1 583.1 L1319.1 582.9 L1317.1 582.8 L1315.1 582.7 L1313.1 582.5 L1311.1 582.4 L1309.1 582.3 L1307.1 582.1 L1305.1 582 L1303.1 581.9 L1301.1 581.7 L1299 581.6 L1297 581.5 L1295 581.3 L1293 581.2 L1291 581.1 L1289 580.9 L1287 580.8 L1285 580.7 L1283 580.5 L1281 580.4 L1279 580.3 L1277 580.1 L1275 580 L1273 579.8 L1271 579.7 L1269 579.6 L1267 579.4 L1265 579.3 L1263 579.2 L1261 579 L1258.9 578.9 L1256.9 578.8 L1254.9 578.6 L1252.9 578.5 L1250.9 578.4 L1248.9 578.2 L1246.9 578.1 L1244.9 578 L1242.9 577.8 L1240.9 577.7Z" fill="#8ed2bb" fill-opacity="0.15" stroke="none"/>
<path d="M1240.9 198.2 L1242.9 198 L1244.9 197.8 L1246.9 197.6 L1248.9 197.4 L1250.9 197.2 L1252.9 197 L1254.9 196.8 L1256.9 196.6 L1258.9 196.4 L1261 196.1 L1263 195.2 L1265 194.3 L1267 195.5 L1269 196.7 L1271 197 L1273 197.3 L1275 197.5 L1277 197.8 L1279 198 L1281 198.2 L1283 198.2 L1285 198.2 L1287 198.3 L1289 198.3 L1291 198.3 L1293 198.3 L1295 198.3 L1297 198.4 L1299 198.4 L1301.1 198.4 L1303.1 198.4 L1305.1 198.4 L1307.1 198.4 L1309.1 198.5 L1311.1 198.5 L1313.1 198.6 L1315.1 198.8 L1317.1 198.9 L1319.1 199.1 L1321.1 199.3 L1323.1 199.4 L1325.1 199.6 L1327.1 199.7 L1329.1 199.9 L1331.1 200.1 L1333.1 200.2 L1335.1 200.4 L1337.1 200.5 L1339.1 200.7 L1341.2 200.9 L1343.2 201 L1345.2 201.2 L1347.2 201.4 L1349.2 201.5 L1351.2 201.7 L1353.2 201.8 L1355.2 202 L1357.2 202.1 L1359.2 202.3 L1361.2 202.4 L1363.2 202.6 L1365.2 202.7 L1367.2 202.8 L1369.2 203 L1371.2 203.1 L1373.2 203.3 L1375.2 203.2 L1377.2 203.1 L1379.2 203 L1381.2 202.9 L1383.3 202.8 L1385.3 202.7 L1387.3 202.6 L1389.3 202.5 L1391.3 202.4 L1393.3 202.3 L1395.3 202.2 L1397.3 202.3 L1399.3 202.4 L1401.3 202.6 L1403.3 202.7 L1405.3 202.9 L1407.3 203.1 L1409.3 203.2 L1411.3 203.4 L1413.3 203.6 L1415.3 203.7 L1417.3 203.9 L1419.3 204 L1421.4 204.2 L1423.4 204.4 L1425.4 204.5 L1427.4 204.7 L1429.4 204.8 L1431.4 205 L1433.4 205.2 L1435.4 205.3 L1437.4 205.5 L1439.4 205.5 L1441.4 205.5 L1443.4 205.5 L1445.4 205.6 L1447.4 205.6 L1449.4 205.6 L1451.4 205.6 L1453.4 205.6 L1455.4 205.6 L1457.4 205.6 L1459.4 205.7 L1461.5 205.7 L1463.5 205.7 L1465.5 205.7 L1467.5 205.7 L1469.5 205.7 L1471.5 205.7 L1473.5 205.7 L1475.5 205.8 L1477.5 205.8 L1479.5 205.8 L1481.5 205.9 L1483.5 206.1 L1485.5 206.3 L1487.5 206.5 L1489.5 206.7 L1491.5 206.9 L1493.5 207.1 L1495.5 207.2 L1497.5 207.4 L1499.5 207.6 L1501.6 207.8 L1503.6 208 L1505.6 208.2 L1507.6 208.4 L1509.6 208.5 L1511.6 208.7 L1513.6 208.9 L1515.6 209.1 L1517.6 209.3 L1519.6 209.5 L1521.6 209.7 L1523.6 209.8 L1525.6 209.8 L1527.6 209.9 L1529.6 209.9 L1531.6 210 L1533.6 210 L1535.6 210.1 L1537.6 210.1 L1539.6 210.2 L1541.7 210.2 L1543.7 210.3 L1545.7 210.4 L1547.7 210.4 L1549.7 210.5 L1551.7 210.5 L1553.7 210.6 L1555.7 210.6 L1557.7 210.7 L1559.7 210.7 L1561.7 210.8 L1563.7 210.8 L1565.7 210.9 L1567.7 211 L1569.7 211.1 L1571.7 211.1 L1573.7 211.2 L1575.7 211.3 L1577.7 211.4 L1579.7 211.5 L1581.8 211.5 L1583.8 211.6 L1585.8 211.7 L1587.8 211.8 L1589.8 211.9 L1591.8 212 L1593.8 212 L1595.8 212.1 L1597.8 212.2 L1599.8 212.3 L1601.8 212.4 L1603.8 212.4 L1605.8 212.5 L1607.8 212.7 L1609.8 212.9 L1611.8 213.2 L1613.8 213.4 L1615.8 213.7 L1617.8 213.9 L1619.8 214.1 L1621.9 214.4 L1623.9 214.6 L1625.9 214.9 L1627.9 215.1 L1629.9 215.3 L1631.9 215.6 L1633.9 215.8 L1635.9 216 L1637.9 216.2 L1639.9 216.4 L1641.9 216.5 L1643.9 216.7 L1645.9 216.9 L1647.9 217.1 L1649.9 217.2 L1651.9 217.4 L1653.9 217.6 L1655.9 217.8 L1657.9 217.9 L1659.9 217.8 L1662 217.8 L1664 217.8 L1666 217.8 L1668 217.7 L1670 217.7 L1672 217.7 L1674 217.6 L1676 217.6 L1678 217.7 L1680 217.8 L1682 218 L1684 218.1 L1686 218.2 L1688 218.4 L1690 218.5 L1692 218.7 L1694 218.8 L1696 218.9 L1698 219.1 L1700 219.2 L1702.1 219.4 L1704.1 219.5 L1706.1 219.7 L1708.1 219.9 L1710.1 220.1 L1712.1 220.3 L1714.1 220.6 L1716.1 220.8 L1718.1 221 L1720.1 221.2 L1722.1 221.4" fill="none" stroke="#12256f" stroke-width="2.4" stroke-linejoin="round"/>
<path d="M1240.9 323.7 L1242.9 323.8 L1244.9 323.9 L1246.9 324.1 L1248.9 324.2 L1250.9 324.3 L1252.9 324.5 L1254.9 324.6 L1256.9 324.8 L1258.9 324.9 L1261 325 L1263 325.2 L1265 325.3 L1267 325.4 L1269 325.6 L1271 325.7 L1273 325.8 L1275 326 L1277 326.1 L1279 326.2 L1281 326.4 L1283 326.5 L1285 326.7 L1287 326.8 L1289 326.9 L1291 327.1 L1293 327.2 L1295 327.3 L1297 327.5 L1299 327.6 L1301.1 327.7 L1303.1 327.9 L1305.1 328 L1307.1 328.1 L1309.1 328.3 L1311.1 328.4 L1313.1 328.6 L1315.1 328.7 L1317.1 328.8 L1319.1 329 L1321.1 329.1 L1323.1 329.2 L1325.1 329.4 L1327.1 329.5 L1329.1 329.6 L1331.1 329.8 L1333.1 329.9 L1335.1 330 L1337.1 330.2 L1339.1 330.3 L1341.2 330.5 L1343.2 330.6 L1345.2 330.7 L1347.2 330.9 L1349.2 331 L1351.2 331.1 L1353.2 331.3 L1355.2 331.4 L1357.2 331.5 L1359.2 331.7 L1361.2 331.8 L1363.2 331.9 L1365.2 332.1 L1367.2 332.2 L1369.2 332.4 L1371.2 332.5 L1373.2 332.6 L1375.2 332.8 L1377.2 332.9 L1379.2 333 L1381.2 333.2 L1383.3 333.3 L1385.3 333.4 L1387.3 333.6 L1389.3 333.7 L1391.3 333.8 L1393.3 334 L1395.3 334.1 L1397.3 334.3 L1399.3 334.4 L1401.3 334.5 L1403.3 334.7 L1405.3 334.8 L1407.3 334.9 L1409.3 335.1 L1411.3 335.2 L1413.3 335.3 L1415.3 335.5 L1417.3 335.6 L1419.3 335.7 L1421.4 335.9 L1423.4 336 L1425.4 336.2 L1427.4 336.3 L1429.4 336.4 L1431.4 336.6 L1433.4 336.7 L1435.4 336.8 L1437.4 337 L1439.4 337.1 L1441.4 337.2 L1443.4 337.4 L1445.4 337.5 L1447.4 337.6 L1449.4 337.8 L1451.4 337.9 L1453.4 338.1 L1455.4 338.2 L1457.4 338.3 L1459.4 338.5 L1461.5 338.6 L1463.5 338.7 L1465.5 338.9 L1467.5 339 L1469.5 339.1 L1471.5 339.3 L1473.5 339.4 L1475.5 339.5 L1477.5 339.7 L1479.5 339.8 L1481.5 340 L1483.5 340.1 L1485.5 340.2 L1487.5 340.4 L1489.5 340.5 L1491.5 340.6 L1493.5 340.8 L1495.5 340.9 L1497.5 341 L1499.5 341.2 L1501.6 341.3 L1503.6 341.4 L1505.6 341.6 L1507.6 341.7 L1509.6 341.8 L1511.6 342 L1513.6 342.1 L1515.6 342.2 L1517.6 342.4 L1519.6 342.5 L1521.6 342.6 L1523.6 342.8 L1525.6 342.9 L1527.6 343 L1529.6 343.2 L1531.6 343.3 L1533.6 343.4 L1535.6 343.6 L1537.6 343.7 L1539.6 343.8 L1541.7 344 L1543.7 344.1 L1545.7 344.2 L1547.7 344.4 L1549.7 344.5 L1551.7 344.6 L1553.7 344.8 L1555.7 344.9 L1557.7 345 L1559.7 345.2 L1561.7 345.3 L1563.7 345.4 L1565.7 345.6 L1567.7 345.7 L1569.7 345.8 L1571.7 346 L1573.7 346.1 L1575.7 346.2 L1577.7 346.4 L1579.7 346.5 L1581.8 346.6 L1583.8 346.8 L1585.8 346.9 L1587.8 347 L1589.8 347.2 L1591.8 347.3 L1593.8 347.4 L1595.8 347.6 L1597.8 347.7 L1599.8 347.8 L1601.8 348 L1603.8 348.1 L1605.8 348.2 L1607.8 348.4 L1609.8 348.5 L1611.8 348.6 L1613.8 348.8 L1615.8 348.9 L1617.8 349 L1619.8 349.2 L1621.9 349.3 L1623.9 349.4 L1625.9 349.6 L1627.9 349.7 L1629.9 349.8 L1631.9 350 L1633.9 350.1 L1635.9 350.2 L1637.9 350.4 L1639.9 350.5 L1641.9 350.6 L1643.9 350.8 L1645.9 350.9 L1647.9 351 L1649.9 351.2 L1651.9 351.3 L1653.9 351.4 L1655.9 351.6 L1657.9 351.7 L1659.9 351.8 L1662 352 L1664 352.1 L1666 352.2 L1668 352.4 L1670 352.5 L1672 352.6 L1674 352.8 L1676 352.9 L1678 353 L1680 353.2 L1682 353.3 L1684 353.4 L1686 353.6 L1688 353.7 L1690 353.8 L1692 354 L1694 354.1 L1696 354.2 L1698 354.4 L1700 354.5 L1702.1 354.6 L1704.1 354.8 L1706.1 354.9 L1708.1 355 L1710.1 355.2 L1712.1 355.3 L1714.1 355.4 L1716.1 355.6 L1718.1 355.7 L1720.1 355.8 L1722.1 356" fill="none" stroke="#31a4c3" stroke-width="2.4" stroke-linejoin="round"/>
<path d="M1240.9 427.4 L1242.9 427.7 L1244.9 427.9 L1246.9 428.1 L1248.9 428.3 L1250.9 428.5 L1252.9 428.8 L1254.9 429 L1256.9 429.2 L1258.9 429.4 L1261 429.6 L1263 429.9 L1265 430.1 L1267 430.3 L1269 430.5 L1271 430.7 L1273 431 L1275 431.2 L1277 431.4 L1279 431.6 L1281 431.8 L1283 432.1 L1285 432.3 L1287 432.5 L1289 432.7 L1291 432.9 L1293 433.2 L1295 433.4 L1297 433.6 L1299 433.8 L1301.1 434 L1303.1 434.3 L1305.1 434.5 L1307.1 434.7 L1309.1 434.9 L1311.1 435.2 L1313.1 435.4 L1315.1 435.6 L1317.1 435.9 L1319.1 436.1 L1321.1 436.3 L1323.1 436.5 L1325.1 436.8 L1327.1 437 L1329.1 437.2 L1331.1 437.5 L1333.1 437.7 L1335.1 437.9 L1337.1 438.2 L1339.1 438.4 L1341.2 438.6 L1343.2 438.8 L1345.2 439.1 L1347.2 439.3 L1349.2 439.5 L1351.2 439.8 L1353.2 440 L1355.2 440.2 L1357.2 440.5 L1359.2 440.7 L1361.2 440.9 L1363.2 441.2 L1365.2 441.4 L1367.2 441.6 L1369.2 441.8 L1371.2 442.1 L1373.2 442.3 L1375.2 442.5 L1377.2 442.8 L1379.2 443.1 L1381.2 443.4 L1383.3 443.8 L1385.3 444.1 L1387.3 444.5 L1389.3 444.9 L1391.3 445.2 L1393.3 445.6 L1395.3 446 L1397.3 446.3 L1399.3 446.7 L1401.3 447 L1403.3 447.4 L1405.3 447.8 L1407.3 448.1 L1409.3 448.5 L1411.3 448.8 L1413.3 449.1 L1415.3 449.4 L1417.3 449.6 L1419.3 449.8 L1421.4 450.1 L1423.4 450.3 L1425.4 450.5 L1427.4 450.7 L1429.4 451 L1431.4 451.2 L1433.4 451.4 L1435.4 451.6 L1437.4 451.9 L1439.4 452.1 L1441.4 452.3 L1443.4 452.6 L1445.4 452.8 L1447.4 453 L1449.4 453.2 L1451.4 453.5 L1453.4 453.7 L1455.4 453.9 L1457.4 454.1 L1459.4 454.4 L1461.5 454.6 L1463.5 454.8 L1465.5 455.2 L1467.5 455.6 L1469.5 456 L1471.5 456.4 L1473.5 456.8 L1475.5 457.2 L1477.5 457.6 L1479.5 458 L1481.5 458.4 L1483.5 458.8 L1485.5 459.2 L1487.5 459.6 L1489.5 460 L1491.5 460.4 L1493.5 460.8 L1495.5 461.2 L1497.5 461.6 L1499.5 461.9 L1501.6 462.1 L1503.6 462.4 L1505.6 462.6 L1507.6 462.9 L1509.6 463.1 L1511.6 463.3 L1513.6 463.6 L1515.6 463.8 L1517.6 464.1 L1519.6 464.3 L1521.6 464.5 L1523.6 464.8 L1525.6 465 L1527.6 465.3 L1529.6 465.5 L1531.6 465.7 L1533.6 466 L1535.6 466.2 L1537.6 466.5 L1539.6 466.7 L1541.7 467 L1543.7 467.2 L1545.7 467.4 L1547.7 467.7 L1549.7 467.9 L1551.7 468.3 L1553.7 468.6 L1555.7 469 L1557.7 469.4 L1559.7 469.7 L1561.7 470.1 L1563.7 470.4 L1565.7 470.8 L1567.7 471.2 L1569.7 471.5 L1571.7 471.9 L1573.7 472.2 L1575.7 472.6 L1577.7 473 L1579.7 473.3 L1581.8 473.7 L1583.8 474 L1585.8 474.4 L1587.8 474.8 L1589.8 475.1 L1591.8 475.5 L1593.8 475.9 L1595.8 476.2 L1597.8 476.6 L1599.8 476.9 L1601.8 477.3 L1603.8 477.5 L1605.8 477.7 L1607.8 478 L1609.8 478.2 L1611.8 478.5 L1613.8 478.7 L1615.8 478.9 L1617.8 479.2 L1619.8 479.4 L1621.9 479.7 L1623.9 479.9 L1625.9 480.1 L1627.9 480.4 L1629.9 480.6 L1631.9 480.9 L1633.9 481.1 L1635.9 481.3 L1637.9 481.6 L1639.9 481.8 L1641.9 482.1 L1643.9 482.3 L1645.9 482.6 L1647.9 482.8 L1649.9 483 L1651.9 483.3 L1653.9 483.6 L1655.9 483.9 L1657.9 484.3 L1659.9 484.6 L1662 484.9 L1664 485.3 L1666 485.6 L1668 486 L1670 486.3 L1672 486.6 L1674 487 L1676 487.3 L1678 487.7 L1680 488 L1682 488.3 L1684 488.7 L1686 489 L1688 489.3 L1690 489.6 L1692 489.9 L1694 490.2 L1696 490.5 L1698 490.8 L1700 491.1 L1702.1 491.3 L1704.1 491.6 L1706.1 491.9 L1708.1 492.2 L1710.1 492.5 L1712.1 492.8 L1714.1 493.1 L1716.1 493.4 L1718.1 493.6 L1720.1 493.9 L1722.1 494.2" fill="none" stroke="#8ed2bb" stroke-width="2.4" stroke-linejoin="round"/>
</g>
<rect x="1240.9" y="35.1" width="481.2" height="608.9" fill="none" stroke="#2e2e2e" stroke-width="1.7"/>
<line x1="1261.1" y1="644" x2="1261.1" y2="651.4" stroke="#2e2e2e" stroke-width="1.7"/>
<text class="xt" transform="translate(1261.7 674.4) scale(1 1.05)" text-anchor="middle">0</text>
<line x1="1348.7" y1="644" x2="1348.7" y2="651.4" stroke="#2e2e2e" stroke-width="1.7"/>
<text class="xt" transform="translate(1349.3 674.4) scale(1 1.05)" text-anchor="middle">1</text>
<line x1="1436.2" y1="644" x2="1436.2" y2="651.4" stroke="#2e2e2e" stroke-width="1.7"/>
<text class="xt" transform="translate(1436.8 674.4) scale(1 1.05)" text-anchor="middle">2</text>
<line x1="1523.8" y1="644" x2="1523.8" y2="651.4" stroke="#2e2e2e" stroke-width="1.7"/>
<text class="xt" transform="translate(1524.4 674.4) scale(1 1.05)" text-anchor="middle">3</text>
<line x1="1611.3" y1="644" x2="1611.3" y2="651.4" stroke="#2e2e2e" stroke-width="1.7"/>
<text class="xt" transform="translate(1611.9 674.4) scale(1 1.05)" text-anchor="middle">4</text>
<line x1="1698.9" y1="644" x2="1698.9" y2="651.4" stroke="#2e2e2e" stroke-width="1.7"/>
<text class="xt" transform="translate(1699.5 674.4) scale(1 1.05)" text-anchor="middle">5</text>
<line x1="1233.2" y1="90" x2="1240.9" y2="90" stroke="#2e2e2e" stroke-width="1.7"/>
<text class="tk" x="1226.2" y="99.1" text-anchor="end">2</text>
<line x1="1233.2" y1="216.1" x2="1240.9" y2="216.1" stroke="#2e2e2e" stroke-width="1.7"/>
<text class="tk" x="1226.2" y="225.2" text-anchor="end">0</text>
<line x1="1233.2" y1="342.2" x2="1240.9" y2="342.2" stroke="#2e2e2e" stroke-width="1.7"/>
<text class="tk" x="1226.2" y="351.3" text-anchor="end">−2</text>
<line x1="1233.2" y1="468.3" x2="1240.9" y2="468.3" stroke="#2e2e2e" stroke-width="1.7"/>
<text class="tk" x="1226.2" y="477.4" text-anchor="end">−4</text>
<line x1="1233.2" y1="594.4" x2="1240.9" y2="594.4" stroke="#2e2e2e" stroke-width="1.7"/>
<text class="tk" x="1226.2" y="603.5" text-anchor="end">−6</text>
<text class="lb" x="1481.5" y="704.5" text-anchor="middle"><tspan style="font-size:23.1px">Δ</tspan>GMT (°C)</text>
<g transform="translate(1176.7 339.6) rotate(-90)"><text class="lb" x="-70" y="0" style="font-size:23.1px">Δ</text><text class="lb it" x="-54.3" y="0" style="font-size:23.7px">T</text><text class="sub" x="-39.8" y="3.8" style="font-size:16.8px">c</text><text class="sub" x="-30.2" y="3.8" style="font-size:16.8px;font-style:normal">,</text><text class="sub" x="-21.1" y="3.8" style="font-size:16.8px">max</text><text class="lb" x="24.5" y="0">(°C)</text></g>
<text class="let" transform="translate(1240.9 23.5) scale(1 1.04)">(c)</text>
<text class="tt" y="23.8"><tspan x="1290.4" style="letter-spacing:0.2px">Temperature offset </tspan><tspan x="1571.5" dy="-0.5" style="font-size:27px">Δ</tspan><tspan class="it" x="1590.2">T</tspan><tspan class="sub" dy="4.3" x="1606.7">c</tspan><tspan class="sub" style="font-style:normal" x="1618.7">,</tspan><tspan class="sub" x="1629">max</tspan></text>
<line x1="1262.4" y1="539.1" x2="1310.3" y2="539.1" stroke="#12256f" stroke-width="2.4" stroke-linecap="square"/>
<text class="lg" x="1329.2" y="547.5">boreal, s=-0.07</text>
<line x1="1262.4" y1="574.2" x2="1310.3" y2="574.2" stroke="#31a4c3" stroke-width="2.4" stroke-linecap="square"/>
<text class="lg" x="1329.2" y="582.6">temperate, s=-0.1</text>
<line x1="1262.4" y1="609.3" x2="1310.3" y2="609.3" stroke="#8ed2bb" stroke-width="2.4" stroke-linecap="square"/>
<text class="lg" x="1329.2" y="617.7">tropical, s=-0.19</text>
</g>
</svg>
</body>
</html>
